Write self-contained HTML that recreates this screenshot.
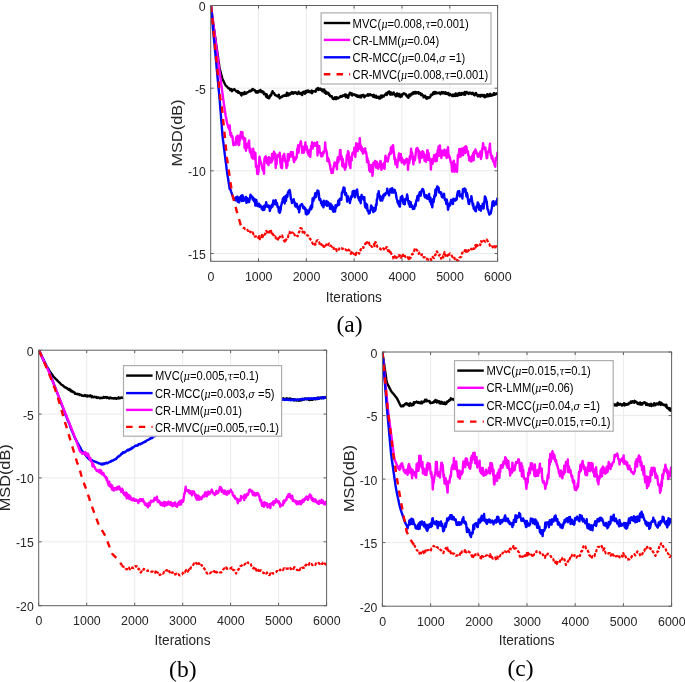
<!DOCTYPE html>
<html><head><meta charset="utf-8"><title>MSD curves</title>
<style>
html,body{margin:0;padding:0;background:#fff;}
svg{display:block;}
text{font-family:"Liberation Sans",sans-serif;fill:#262626;}
.tk{font-size:13.4px;}
.lb{font-size:14px;}
.lg{font-size:11.9px;fill:#000;}
.g{font-family:"DejaVu Serif","Liberation Serif",serif;font-style:italic;font-size:10.5px;}
.cap{font-family:"Liberation Serif",serif;font-size:23.5px;fill:#000;}
.c{fill:none;stroke-width:2.40;stroke-linejoin:round;stroke-linecap:butt;}
</style></head><body>
<svg width="685" height="682" viewBox="0 0 685 682">
<rect x="0" y="0" width="685" height="682" fill="#ffffff"/>
<g id="chart-a">
<clipPath id="clip-a"><rect x="210.7" y="4.3" width="287.5" height="257.0"/></clipPath>
<line x1="258.5" y1="5.5" x2="258.5" y2="261.3" stroke="#ebebeb" stroke-width="1"/>
<line x1="306.3" y1="5.5" x2="306.3" y2="261.3" stroke="#ebebeb" stroke-width="1"/>
<line x1="354.1" y1="5.5" x2="354.1" y2="261.3" stroke="#ebebeb" stroke-width="1"/>
<line x1="402.0" y1="5.5" x2="402.0" y2="261.3" stroke="#ebebeb" stroke-width="1"/>
<line x1="449.8" y1="5.5" x2="449.8" y2="261.3" stroke="#ebebeb" stroke-width="1"/>
<line x1="210.7" y1="88.2" x2="497.6" y2="88.2" stroke="#ebebeb" stroke-width="1"/>
<line x1="210.7" y1="170.8" x2="497.6" y2="170.8" stroke="#ebebeb" stroke-width="1"/>
<line x1="210.7" y1="253.5" x2="497.6" y2="253.5" stroke="#ebebeb" stroke-width="1"/>
<g clip-path="url(#clip-a)">
<path class="c" d="M210.9 5.6 L211.3 8.9 L211.8 12.2 L212.2 15.6 L212.7 18.9 L213.1 22.2 L213.6 25.6 L214.0 28.9 L214.5 32.2 L214.9 35.5 L215.4 38.8 L215.8 42.0 L216.3 45.1 L216.7 48.3 L217.2 51.4 L217.6 54.6 L218.1 57.7 L218.5 60.9 L219.0 64.0 L219.4 67.2 L219.9 69.6 L220.3 71.2 L220.8 72.8 L221.2 74.3 L221.7 75.9 L222.1 77.5 L222.6 79.1 L223.0 80.1 L223.5 81.0 L223.9 82.0 L224.4 82.9 L224.8 83.8 L225.3 84.8 L225.7 85.5 L226.2 85.9 L226.6 86.3 L227.1 86.6 L227.5 87.2 L228.0 87.9 L228.4 88.2 L228.9 88.3 L229.3 88.4 L229.8 88.8 L230.2 90.2 L230.7 89.4 L231.1 89.1 L231.6 89.7 L232.0 91.2 L232.5 89.8 L232.9 90.2 L233.4 90.0 L233.8 89.6 L234.3 89.1 L234.7 89.8 L235.2 90.0 L235.6 90.7 L236.1 91.2 L236.5 91.5 L237.0 91.3 L237.4 92.0 L237.9 91.1 L238.3 92.9 L238.8 92.6 L239.2 92.2 L239.7 93.1 L240.1 92.9 L240.6 94.1 L241.0 94.7 L241.5 95.4 L241.9 93.0 L242.4 92.9 L242.8 93.5 L243.3 93.9 L243.7 94.3 L244.2 93.8 L244.6 91.9 L245.1 93.1 L245.5 93.8 L246.0 93.3 L246.4 93.5 L246.9 92.5 L247.3 92.3 L247.8 92.3 L248.2 92.2 L248.7 91.8 L249.1 91.5 L249.6 90.7 L250.0 91.2 L250.5 90.7 L250.9 91.2 L251.4 91.0 L251.8 90.0 L252.3 89.3 L252.7 88.9 L253.2 89.8 L253.6 89.8 L254.1 89.8 L254.5 90.4 L255.0 90.3 L255.4 91.6 L255.9 91.0 L256.3 92.6 L256.8 92.3 L257.2 92.7 L257.7 91.3 L258.1 92.1 L258.6 92.3 L259.0 90.8 L259.5 91.1 L259.9 91.1 L260.4 89.9 L260.8 91.2 L261.3 92.0 L261.7 91.0 L262.2 92.3 L262.6 91.4 L263.1 92.7 L263.5 91.8 L264.0 94.2 L264.4 94.0 L264.9 94.0 L265.3 93.8 L265.8 95.8 L266.2 96.7 L266.7 94.3 L267.1 97.0 L267.6 97.7 L268.0 97.1 L268.5 96.4 L268.9 98.3 L269.4 97.8 L269.8 96.6 L270.3 95.3 L270.7 95.8 L271.2 95.2 L271.6 93.3 L272.1 93.3 L272.5 91.2 L273.0 92.9 L273.4 92.7 L273.9 93.0 L274.3 93.5 L274.8 94.7 L275.2 95.1 L275.7 95.4 L276.1 95.4 L276.6 95.5 L277.0 96.1 L277.5 96.0 L277.9 96.5 L278.4 95.9 L278.8 94.7 L279.3 97.3 L279.7 98.4 L280.2 97.2 L280.6 97.0 L281.1 97.2 L281.5 97.2 L282.0 97.0 L282.4 95.9 L282.9 96.1 L283.3 95.5 L283.8 96.1 L284.2 95.4 L284.7 95.8 L285.1 95.0 L285.6 95.6 L286.0 94.7 L286.5 96.0 L286.9 92.6 L287.4 93.5 L287.8 94.6 L288.3 95.5 L288.7 93.5 L289.2 93.7 L289.6 93.4 L290.1 94.4 L290.5 93.1 L291.0 93.8 L291.4 92.9 L291.9 92.1 L292.3 93.2 L292.8 93.3 L293.2 93.8 L293.7 92.6 L294.1 92.2 L294.6 93.0 L295.0 92.6 L295.5 92.6 L295.9 92.3 L296.4 93.4 L296.8 92.9 L297.3 94.1 L297.7 93.6 L298.2 93.3 L298.6 91.7 L299.1 93.5 L299.5 93.4 L300.0 93.8 L300.4 94.1 L300.9 93.1 L301.3 94.1 L301.8 93.1 L302.2 95.1 L302.7 92.4 L303.1 91.9 L303.6 91.8 L304.0 92.2 L304.5 91.8 L304.9 93.9 L305.4 92.0 L305.8 91.1 L306.3 92.7 L306.7 91.2 L307.2 90.6 L307.6 91.9 L308.1 91.6 L308.5 90.6 L309.0 91.9 L309.4 91.1 L309.9 92.3 L310.3 91.6 L310.8 92.5 L311.2 91.5 L311.7 90.6 L312.1 93.3 L312.6 91.4 L313.0 91.7 L313.5 91.2 L313.9 91.3 L314.4 91.3 L314.8 91.0 L315.3 91.1 L315.7 91.7 L316.2 90.0 L316.6 88.9 L317.1 88.6 L317.5 88.8 L318.0 88.1 L318.4 90.0 L318.9 89.0 L319.3 89.2 L319.8 89.5 L320.2 88.5 L320.7 88.9 L321.1 90.1 L321.6 90.1 L322.0 89.5 L322.5 91.4 L322.9 89.4 L323.4 90.3 L323.8 90.7 L324.3 89.5 L324.7 92.9 L325.2 92.0 L325.6 91.2 L326.1 93.8 L326.5 92.9 L327.0 93.1 L327.4 92.6 L327.9 93.5 L328.3 92.7 L328.8 94.8 L329.2 94.3 L329.7 95.0 L330.1 96.2 L330.6 95.9 L331.0 96.2 L331.5 96.6 L331.9 96.3 L332.4 97.8 L332.8 98.7 L333.3 98.5 L333.7 99.0 L334.2 97.8 L334.6 97.7 L335.1 97.2 L335.5 99.1 L336.0 97.9 L336.4 99.0 L336.9 97.3 L337.3 97.5 L337.8 97.8 L338.2 98.3 L338.7 97.6 L339.1 97.6 L339.6 97.3 L340.0 97.3 L340.5 96.1 L340.9 96.8 L341.4 96.4 L341.8 96.4 L342.3 96.6 L342.7 95.5 L343.2 95.8 L343.6 95.5 L344.1 95.8 L344.5 95.9 L345.0 94.5 L345.4 95.9 L345.9 97.2 L346.3 94.8 L346.8 95.4 L347.2 95.6 L347.7 96.3 L348.1 97.9 L348.6 95.9 L349.0 94.4 L349.5 94.5 L349.9 92.7 L350.4 94.0 L350.8 93.6 L351.3 94.6 L351.7 93.2 L352.2 95.6 L352.6 94.7 L353.1 94.8 L353.5 94.5 L354.0 94.2 L354.4 94.3 L354.9 95.0 L355.3 94.7 L355.8 95.7 L356.2 95.1 L356.7 96.3 L357.1 96.6 L357.6 95.4 L358.0 96.9 L358.5 95.9 L358.9 97.0 L359.4 96.5 L359.8 97.1 L360.3 95.6 L360.7 96.3 L361.2 97.5 L361.6 96.0 L362.1 95.0 L362.5 95.2 L363.0 95.0 L363.4 95.0 L363.9 96.2 L364.3 97.3 L364.8 95.8 L365.2 96.3 L365.7 95.8 L366.1 95.7 L366.6 95.4 L367.0 95.3 L367.5 95.6 L367.9 94.2 L368.4 95.7 L368.8 95.5 L369.3 94.5 L369.7 95.1 L370.2 94.2 L370.6 94.5 L371.1 95.2 L371.5 95.2 L372.0 95.2 L372.4 95.2 L372.9 95.5 L373.3 96.8 L373.8 94.8 L374.2 96.7 L374.7 96.5 L375.1 97.4 L375.6 97.4 L376.0 95.6 L376.5 97.8 L376.9 97.6 L377.4 97.3 L377.8 96.9 L378.3 97.8 L378.7 96.8 L379.2 98.5 L379.6 97.5 L380.1 98.6 L380.5 96.4 L381.0 95.6 L381.4 97.4 L381.9 97.5 L382.3 96.8 L382.8 95.6 L383.2 96.1 L383.7 96.6 L384.1 95.6 L384.6 95.3 L385.0 94.9 L385.5 94.0 L385.9 94.0 L386.4 93.0 L386.8 95.0 L387.3 93.0 L387.7 93.4 L388.2 91.9 L388.6 93.2 L389.1 91.4 L389.5 93.6 L390.0 93.0 L390.4 94.7 L390.9 92.3 L391.3 93.5 L391.8 93.8 L392.2 94.6 L392.7 93.5 L393.1 94.0 L393.6 92.4 L394.0 93.5 L394.5 94.6 L394.9 95.2 L395.4 94.3 L395.8 96.2 L396.3 96.1 L396.7 94.8 L397.2 93.3 L397.6 93.8 L398.1 94.6 L398.5 96.2 L399.0 95.7 L399.4 94.0 L399.9 95.5 L400.3 97.0 L400.8 95.3 L401.2 94.7 L401.7 96.5 L402.1 94.7 L402.6 94.0 L403.0 94.4 L403.5 93.8 L403.9 93.2 L404.4 94.1 L404.8 93.9 L405.3 94.2 L405.7 94.0 L406.2 95.5 L406.6 95.1 L407.1 96.0 L407.5 96.9 L408.0 97.2 L408.4 97.8 L408.9 96.4 L409.3 94.5 L409.8 94.5 L410.2 96.1 L410.7 94.5 L411.1 94.7 L411.6 93.4 L412.0 94.4 L412.5 93.1 L412.9 94.1 L413.4 92.3 L413.8 93.4 L414.3 93.1 L414.7 92.1 L415.2 93.5 L415.6 92.0 L416.1 92.1 L416.5 93.3 L417.0 92.3 L417.4 92.4 L417.9 92.6 L418.3 92.1 L418.8 93.7 L419.2 93.4 L419.7 92.9 L420.1 92.9 L420.6 93.7 L421.0 95.1 L421.5 94.8 L421.9 94.1 L422.4 95.5 L422.8 95.2 L423.3 95.5 L423.7 97.4 L424.2 96.1 L424.6 96.4 L425.1 95.7 L425.5 96.5 L426.0 98.2 L426.4 97.8 L426.9 98.7 L427.3 97.1 L427.8 97.1 L428.2 97.8 L428.7 98.1 L429.1 97.1 L429.6 97.2 L430.0 97.3 L430.5 96.4 L430.9 94.6 L431.4 94.9 L431.8 95.1 L432.3 94.0 L432.7 94.4 L433.2 92.5 L433.6 93.0 L434.1 94.0 L434.5 91.9 L435.0 92.6 L435.4 93.4 L435.9 92.1 L436.3 93.4 L436.8 92.7 L437.2 93.0 L437.7 93.0 L438.1 93.3 L438.6 92.7 L439.0 93.1 L439.5 92.6 L439.9 93.4 L440.4 94.2 L440.8 93.1 L441.3 93.0 L441.7 92.0 L442.2 93.4 L442.6 92.2 L443.1 92.2 L443.5 93.2 L444.0 92.8 L444.4 93.5 L444.9 93.7 L445.3 92.2 L445.8 92.7 L446.2 93.9 L446.7 93.4 L447.1 93.5 L447.6 94.1 L448.0 92.9 L448.5 94.1 L448.9 94.9 L449.4 95.3 L449.8 93.7 L450.3 94.3 L450.7 95.0 L451.2 94.7 L451.6 94.9 L452.1 95.9 L452.5 95.4 L453.0 94.5 L453.4 96.0 L453.9 95.3 L454.3 94.9 L454.8 94.2 L455.2 96.0 L455.7 93.5 L456.1 93.8 L456.6 94.7 L457.0 95.7 L457.5 95.7 L457.9 93.7 L458.4 94.3 L458.8 93.2 L459.3 95.0 L459.7 93.0 L460.2 93.9 L460.6 94.7 L461.1 93.6 L461.5 94.8 L462.0 93.0 L462.4 93.8 L462.9 94.1 L463.3 93.3 L463.8 94.4 L464.2 93.7 L464.7 92.0 L465.1 94.8 L465.6 93.6 L466.0 93.1 L466.5 91.9 L466.9 93.0 L467.4 92.5 L467.8 93.3 L468.3 93.0 L468.7 94.0 L469.2 92.7 L469.6 93.0 L470.1 93.1 L470.5 92.8 L471.0 92.9 L471.4 94.0 L471.9 93.9 L472.3 93.0 L472.8 92.7 L473.2 93.7 L473.7 94.7 L474.1 94.0 L474.6 95.4 L475.0 93.7 L475.5 94.5 L475.9 92.9 L476.4 94.2 L476.8 94.5 L477.3 95.2 L477.7 96.2 L478.2 95.1 L478.6 96.2 L479.1 95.7 L479.5 96.1 L480.0 95.1 L480.4 96.6 L480.9 94.9 L481.3 96.1 L481.8 95.1 L482.2 95.6 L482.7 95.0 L483.1 95.8 L483.6 96.5 L484.0 96.2 L484.5 95.1 L484.9 97.2 L485.4 96.2 L485.8 96.7 L486.3 96.4 L486.7 95.3 L487.2 94.2 L487.6 94.9 L488.1 96.4 L488.5 94.7 L489.0 96.0 L489.4 94.8 L489.9 95.5 L490.3 93.8 L490.8 95.9 L491.2 94.9 L491.7 95.5 L492.1 94.9 L492.6 95.3 L493.0 94.5 L493.5 95.0 L493.9 93.2 L494.4 93.4 L494.8 94.7 L495.3 94.0 L495.7 93.8 L496.2 93.7 L496.6 94.1 L497.1 93.2 L497.5 94.0" stroke="#000000"/>
<path class="c" d="M210.9 5.6 L211.3 9.0 L211.8 12.4 L212.2 15.8 L212.7 19.2 L213.1 22.6 L213.6 26.0 L214.0 29.4 L214.5 32.8 L214.9 36.3 L215.4 39.7 L215.8 43.1 L216.3 46.5 L216.7 49.9 L217.2 53.3 L217.6 56.7 L218.1 60.1 L218.5 63.5 L219.0 66.9 L219.4 70.4 L219.9 73.8 L220.3 77.2 L220.8 80.6 L221.2 84.0 L221.7 87.4 L222.1 90.8 L222.6 94.2 L223.0 97.6 L223.5 100.9 L223.9 104.0 L224.4 107.1 L224.8 110.2 L225.3 113.3 L225.7 116.0 L226.2 118.3 L226.6 120.9 L227.1 123.0 L227.5 124.3 L228.0 126.3 L228.4 127.7 L228.9 127.2 L229.3 129.6 L229.8 125.5 L230.2 134.1 L230.7 135.5 L231.1 132.9 L231.6 137.2 L232.0 137.3 L232.5 136.4 L232.9 140.8 L233.4 145.2 L233.8 142.8 L234.3 144.5 L234.7 143.9 L235.2 143.9 L235.6 144.8 L236.1 137.5 L236.5 139.7 L237.0 140.4 L237.4 135.7 L237.9 141.6 L238.3 144.1 L238.8 145.1 L239.2 144.4 L239.7 135.5 L240.1 140.0 L240.6 136.0 L241.0 131.9 L241.5 136.0 L241.9 134.8 L242.4 132.3 L242.8 138.5 L243.3 136.7 L243.7 139.8 L244.2 138.1 L244.6 148.0 L245.1 138.4 L245.5 146.5 L246.0 150.7 L246.4 143.6 L246.9 147.6 L247.3 146.3 L247.8 147.5 L248.2 147.2 L248.7 141.8 L249.1 140.6 L249.6 150.7 L250.0 152.0 L250.5 148.8 L250.9 153.0 L251.4 154.9 L251.8 157.2 L252.3 155.5 L252.7 158.6 L253.2 148.6 L253.6 156.4 L254.1 153.8 L254.5 152.2 L255.0 159.7 L255.4 152.9 L255.9 166.2 L256.3 167.2 L256.8 165.9 L257.2 173.9 L257.7 169.5 L258.1 174.1 L258.6 170.1 L259.0 163.0 L259.5 156.7 L259.9 158.8 L260.4 161.3 L260.8 162.3 L261.3 163.0 L261.7 165.6 L262.2 168.3 L262.6 169.3 L263.1 170.5 L263.5 167.7 L264.0 173.8 L264.4 159.4 L264.9 157.3 L265.3 158.3 L265.8 156.3 L266.2 159.3 L266.7 161.2 L267.1 163.3 L267.6 162.5 L268.0 158.0 L268.5 165.1 L268.9 157.2 L269.4 162.7 L269.8 160.8 L270.3 158.3 L270.7 162.5 L271.2 159.4 L271.6 162.2 L272.1 153.9 L272.5 160.1 L273.0 158.3 L273.4 156.4 L273.9 151.8 L274.3 156.6 L274.8 154.1 L275.2 153.8 L275.7 168.0 L276.1 163.9 L276.6 164.4 L277.0 155.7 L277.5 157.1 L277.9 155.0 L278.4 155.2 L278.8 155.2 L279.3 156.3 L279.7 152.6 L280.2 162.4 L280.6 163.7 L281.1 167.5 L281.5 163.9 L282.0 168.2 L282.4 159.8 L282.9 155.6 L283.3 160.3 L283.8 155.6 L284.2 154.0 L284.7 158.8 L285.1 161.5 L285.6 160.7 L286.0 162.2 L286.5 168.1 L286.9 164.4 L287.4 165.6 L287.8 154.2 L288.3 160.3 L288.7 160.6 L289.2 156.3 L289.6 153.9 L290.1 156.8 L290.5 153.8 L291.0 152.0 L291.4 156.4 L291.9 156.0 L292.3 152.1 L292.8 152.1 L293.2 157.2 L293.7 160.4 L294.1 162.1 L294.6 157.5 L295.0 159.2 L295.5 159.7 L295.9 158.8 L296.4 158.2 L296.8 156.0 L297.3 148.7 L297.7 148.4 L298.2 145.2 L298.6 152.7 L299.1 146.2 L299.5 145.7 L300.0 145.5 L300.4 142.6 L300.9 141.3 L301.3 144.7 L301.8 146.7 L302.2 152.9 L302.7 152.2 L303.1 147.5 L303.6 152.7 L304.0 152.2 L304.5 146.1 L304.9 148.3 L305.4 142.4 L305.8 149.6 L306.3 148.5 L306.7 146.3 L307.2 149.2 L307.6 152.9 L308.1 151.4 L308.5 154.9 L309.0 155.5 L309.4 150.3 L309.9 150.8 L310.3 157.0 L310.8 149.9 L311.2 145.9 L311.7 147.6 L312.1 142.3 L312.6 148.6 L313.0 145.2 L313.5 146.3 L313.9 144.7 L314.4 142.9 L314.8 145.8 L315.3 144.7 L315.7 143.3 L316.2 143.4 L316.6 146.4 L317.1 142.3 L317.5 155.5 L318.0 145.5 L318.4 151.0 L318.9 147.8 L319.3 146.2 L319.8 152.6 L320.2 152.5 L320.7 153.5 L321.1 156.2 L321.6 153.3 L322.0 156.4 L322.5 155.9 L322.9 152.5 L323.4 151.8 L323.8 153.3 L324.3 151.0 L324.7 150.5 L325.2 142.5 L325.6 148.4 L326.1 150.2 L326.5 150.8 L327.0 154.3 L327.4 161.1 L327.9 157.8 L328.3 161.6 L328.8 159.2 L329.2 161.3 L329.7 164.5 L330.1 164.8 L330.6 169.7 L331.0 168.8 L331.5 173.0 L331.9 171.1 L332.4 172.4 L332.8 172.7 L333.3 168.7 L333.7 167.1 L334.2 164.4 L334.6 162.4 L335.1 164.2 L335.5 166.1 L336.0 165.1 L336.4 162.7 L336.9 169.2 L337.3 160.3 L337.8 157.2 L338.2 162.4 L338.7 160.0 L339.1 157.9 L339.6 156.8 L340.0 150.1 L340.5 149.9 L340.9 158.8 L341.4 159.9 L341.8 156.5 L342.3 166.3 L342.7 159.0 L343.2 162.3 L343.6 166.7 L344.1 164.1 L344.5 168.0 L345.0 169.7 L345.4 166.3 L345.9 167.4 L346.3 163.9 L346.8 156.1 L347.2 154.7 L347.7 154.6 L348.1 151.1 L348.6 152.5 L349.0 160.1 L349.5 165.3 L349.9 164.9 L350.4 168.1 L350.8 158.6 L351.3 156.4 L351.7 160.5 L352.2 154.2 L352.6 152.8 L353.1 154.1 L353.5 151.9 L354.0 154.0 L354.4 147.8 L354.9 150.1 L355.3 157.0 L355.8 149.9 L356.2 143.2 L356.7 150.0 L357.1 149.2 L357.6 151.1 L358.0 146.7 L358.5 143.6 L358.9 149.1 L359.4 146.3 L359.8 138.1 L360.3 146.8 L360.7 145.1 L361.2 150.3 L361.6 147.0 L362.1 151.7 L362.5 151.1 L363.0 153.5 L363.4 151.5 L363.9 149.2 L364.3 149.5 L364.8 150.1 L365.2 148.3 L365.7 153.4 L366.1 152.2 L366.6 155.3 L367.0 162.1 L367.5 158.3 L367.9 162.2 L368.4 161.1 L368.8 164.8 L369.3 170.5 L369.7 167.4 L370.2 171.7 L370.6 165.1 L371.1 165.0 L371.5 171.0 L372.0 166.5 L372.4 175.9 L372.9 171.7 L373.3 162.9 L373.8 164.7 L374.2 162.2 L374.7 163.8 L375.1 161.0 L375.6 164.7 L376.0 167.5 L376.5 163.5 L376.9 161.8 L377.4 168.1 L377.8 165.4 L378.3 168.7 L378.7 164.2 L379.2 166.6 L379.6 164.5 L380.1 162.3 L380.5 160.9 L381.0 164.7 L381.4 169.9 L381.9 166.6 L382.3 164.4 L382.8 167.7 L383.2 166.7 L383.7 163.3 L384.1 167.5 L384.6 168.8 L385.0 160.7 L385.5 155.8 L385.9 158.2 L386.4 160.9 L386.8 158.1 L387.3 158.2 L387.7 161.6 L388.2 159.7 L388.6 156.8 L389.1 153.9 L389.5 154.5 L390.0 152.5 L390.4 154.0 L390.9 147.5 L391.3 153.5 L391.8 148.0 L392.2 146.3 L392.7 151.8 L393.1 145.1 L393.6 150.7 L394.0 153.1 L394.5 159.5 L394.9 157.4 L395.4 164.3 L395.8 159.8 L396.3 163.8 L396.7 161.2 L397.2 167.4 L397.6 161.4 L398.1 161.9 L398.5 157.1 L399.0 153.5 L399.4 155.1 L399.9 160.0 L400.3 154.5 L400.8 153.9 L401.2 158.5 L401.7 162.6 L402.1 158.0 L402.6 160.4 L403.0 162.3 L403.5 160.5 L403.9 162.0 L404.4 164.4 L404.8 160.6 L405.3 160.1 L405.7 162.3 L406.2 160.4 L406.6 158.6 L407.1 159.3 L407.5 159.9 L408.0 169.9 L408.4 163.0 L408.9 163.5 L409.3 162.6 L409.8 156.2 L410.2 159.6 L410.7 154.7 L411.1 148.7 L411.6 154.2 L412.0 152.4 L412.5 155.3 L412.9 158.1 L413.4 164.4 L413.8 157.1 L414.3 158.8 L414.7 160.5 L415.2 157.9 L415.6 154.8 L416.1 150.0 L416.5 148.4 L417.0 149.9 L417.4 148.0 L417.9 150.6 L418.3 149.8 L418.8 158.0 L419.2 151.2 L419.7 162.5 L420.1 155.9 L420.6 153.7 L421.0 152.6 L421.5 157.7 L421.9 157.7 L422.4 151.3 L422.8 154.1 L423.3 151.9 L423.7 153.3 L424.2 156.7 L424.6 160.8 L425.1 155.0 L425.5 156.4 L426.0 161.9 L426.4 159.1 L426.9 159.3 L427.3 150.1 L427.8 150.5 L428.2 159.9 L428.7 153.1 L429.1 159.9 L429.6 158.2 L430.0 161.2 L430.5 160.1 L430.9 169.6 L431.4 159.5 L431.8 160.0 L432.3 159.2 L432.7 163.8 L433.2 159.5 L433.6 159.0 L434.1 155.2 L434.5 155.5 L435.0 157.2 L435.4 161.3 L435.9 158.3 L436.3 154.0 L436.8 161.0 L437.2 155.8 L437.7 150.2 L438.1 151.0 L438.6 146.5 L439.0 155.9 L439.5 149.5 L439.9 145.4 L440.4 153.2 L440.8 150.7 L441.3 158.0 L441.7 155.4 L442.2 150.6 L442.6 155.3 L443.1 154.4 L443.5 154.8 L444.0 154.4 L444.4 149.7 L444.9 155.6 L445.3 151.7 L445.8 151.0 L446.2 155.2 L446.7 158.0 L447.1 149.7 L447.6 157.0 L448.0 147.1 L448.5 156.6 L448.9 154.8 L449.4 157.9 L449.8 156.9 L450.3 159.7 L450.7 162.2 L451.2 162.7 L451.6 165.6 L452.1 171.6 L452.5 163.7 L453.0 165.7 L453.4 161.5 L453.9 160.8 L454.3 171.9 L454.8 163.9 L455.2 165.8 L455.7 168.3 L456.1 171.2 L456.6 169.6 L457.0 171.8 L457.5 162.7 L457.9 154.8 L458.4 157.8 L458.8 154.8 L459.3 149.0 L459.7 149.3 L460.2 149.2 L460.6 156.7 L461.1 150.3 L461.5 148.6 L462.0 154.2 L462.4 148.5 L462.9 155.4 L463.3 154.0 L463.8 148.9 L464.2 148.4 L464.7 146.9 L465.1 153.0 L465.6 150.2 L466.0 146.3 L466.5 147.1 L466.9 151.5 L467.4 152.6 L467.8 151.2 L468.3 155.3 L468.7 155.2 L469.2 160.4 L469.6 159.8 L470.1 159.6 L470.5 161.2 L471.0 157.2 L471.4 161.4 L471.9 158.9 L472.3 155.5 L472.8 156.1 L473.2 153.1 L473.7 160.3 L474.1 151.4 L474.6 153.3 L475.0 152.4 L475.5 149.4 L475.9 152.2 L476.4 151.7 L476.8 153.9 L477.3 154.3 L477.7 156.3 L478.2 156.8 L478.6 153.7 L479.1 153.8 L479.5 154.1 L480.0 153.7 L480.4 151.5 L480.9 159.0 L481.3 157.4 L481.8 155.3 L482.2 148.9 L482.7 147.3 L483.1 143.2 L483.6 147.4 L484.0 147.7 L484.5 149.2 L484.9 148.9 L485.4 147.6 L485.8 152.6 L486.3 154.3 L486.7 158.2 L487.2 157.7 L487.6 152.8 L488.1 151.7 L488.5 152.1 L489.0 149.6 L489.4 148.4 L489.9 143.8 L490.3 149.6 L490.8 155.5 L491.2 154.8 L491.7 158.5 L492.1 156.0 L492.6 158.3 L493.0 161.2 L493.5 161.6 L493.9 161.5 L494.4 164.3 L494.8 165.8 L495.3 166.8 L495.7 157.9 L496.2 159.9 L496.6 158.9 L497.1 157.3 L497.5 151.9" stroke="#ff00ff"/>
<path class="c" d="M210.9 5.6 L211.3 10.4 L211.8 15.2 L212.2 20.1 L212.7 24.9 L213.1 29.7 L213.6 34.6 L214.0 39.4 L214.5 44.2 L214.9 49.0 L215.4 53.9 L215.8 58.7 L216.3 63.5 L216.7 68.4 L217.2 73.2 L217.6 78.0 L218.1 82.9 L218.5 87.7 L219.0 92.5 L219.4 97.3 L219.9 102.5 L220.3 108.2 L220.8 113.8 L221.2 119.4 L221.7 125.0 L222.1 130.7 L222.6 136.3 L223.0 140.0 L223.5 143.6 L223.9 147.2 L224.4 150.8 L224.8 154.4 L225.3 158.0 L225.7 161.6 L226.2 165.2 L226.6 168.8 L227.1 172.3 L227.5 175.1 L228.0 178.0 L228.4 180.8 L228.9 183.7 L229.3 186.5 L229.8 189.3 L230.2 188.9 L230.7 190.2 L231.1 191.6 L231.6 192.9 L232.0 194.3 L232.5 195.3 L232.9 197.0 L233.4 198.4 L233.8 198.7 L234.3 199.2 L234.7 199.6 L235.2 200.3 L235.6 197.8 L236.1 200.4 L236.5 196.9 L237.0 198.8 L237.4 196.7 L237.9 201.8 L238.3 202.1 L238.8 198.9 L239.2 202.4 L239.7 197.5 L240.1 198.8 L240.6 198.5 L241.0 195.9 L241.5 198.5 L241.9 201.1 L242.4 195.2 L242.8 198.6 L243.3 196.7 L243.7 200.8 L244.2 198.8 L244.6 199.6 L245.1 200.0 L245.5 199.7 L246.0 197.0 L246.4 202.8 L246.9 198.0 L247.3 201.5 L247.8 202.0 L248.2 198.9 L248.7 200.5 L249.1 202.1 L249.6 199.5 L250.0 197.5 L250.5 194.7 L250.9 196.7 L251.4 197.0 L251.8 196.9 L252.3 196.5 L252.7 199.5 L253.2 198.1 L253.6 199.5 L254.1 201.4 L254.5 198.9 L255.0 200.4 L255.4 205.6 L255.9 203.6 L256.3 199.9 L256.8 202.7 L257.2 204.3 L257.7 206.1 L258.1 204.4 L258.6 203.6 L259.0 203.7 L259.5 206.7 L259.9 206.6 L260.4 205.4 L260.8 206.5 L261.3 206.5 L261.7 209.1 L262.2 206.9 L262.6 209.6 L263.1 210.1 L263.5 208.9 L264.0 206.0 L264.4 209.7 L264.9 205.4 L265.3 207.0 L265.8 204.3 L266.2 202.3 L266.7 206.3 L267.1 206.6 L267.6 206.1 L268.0 207.0 L268.5 205.5 L268.9 205.6 L269.4 206.9 L269.8 211.0 L270.3 209.2 L270.7 206.3 L271.2 207.8 L271.6 205.2 L272.1 204.6 L272.5 206.5 L273.0 203.3 L273.4 200.5 L273.9 201.5 L274.3 203.0 L274.8 202.7 L275.2 204.4 L275.7 200.3 L276.1 202.7 L276.6 202.8 L277.0 203.2 L277.5 206.7 L277.9 207.5 L278.4 206.5 L278.8 211.7 L279.3 208.9 L279.7 212.9 L280.2 211.5 L280.6 210.0 L281.1 205.6 L281.5 204.7 L282.0 202.2 L282.4 202.1 L282.9 198.4 L283.3 199.9 L283.8 199.1 L284.2 197.0 L284.7 203.5 L285.1 199.0 L285.6 196.2 L286.0 201.0 L286.5 195.2 L286.9 196.9 L287.4 196.8 L287.8 192.9 L288.3 192.2 L288.7 191.0 L289.2 191.5 L289.6 190.0 L290.1 192.1 L290.5 195.5 L291.0 199.1 L291.4 199.7 L291.9 203.1 L292.3 202.5 L292.8 200.8 L293.2 202.1 L293.7 199.1 L294.1 201.7 L294.6 202.2 L295.0 205.3 L295.5 206.6 L295.9 204.8 L296.4 205.2 L296.8 203.8 L297.3 206.9 L297.7 208.1 L298.2 208.9 L298.6 207.0 L299.1 212.3 L299.5 210.0 L300.0 206.8 L300.4 205.2 L300.9 204.9 L301.3 205.0 L301.8 203.9 L302.2 204.3 L302.7 205.8 L303.1 207.8 L303.6 208.3 L304.0 206.8 L304.5 208.7 L304.9 208.1 L305.4 208.6 L305.8 213.8 L306.3 209.6 L306.7 214.5 L307.2 210.4 L307.6 211.8 L308.1 213.7 L308.5 212.0 L309.0 212.3 L309.4 210.0 L309.9 208.5 L310.3 208.1 L310.8 206.1 L311.2 209.4 L311.7 204.9 L312.1 207.4 L312.6 198.4 L313.0 201.1 L313.5 200.6 L313.9 197.5 L314.4 198.7 L314.8 196.3 L315.3 193.1 L315.7 193.9 L316.2 196.8 L316.6 192.6 L317.1 192.3 L317.5 190.5 L318.0 192.6 L318.4 191.0 L318.9 194.1 L319.3 199.7 L319.8 198.6 L320.2 198.9 L320.7 200.8 L321.1 203.2 L321.6 201.7 L322.0 205.4 L322.5 204.4 L322.9 203.5 L323.4 207.4 L323.8 200.8 L324.3 204.1 L324.7 205.1 L325.2 202.3 L325.6 203.1 L326.1 201.6 L326.5 201.0 L327.0 205.8 L327.4 202.4 L327.9 201.9 L328.3 205.3 L328.8 203.1 L329.2 205.9 L329.7 205.7 L330.1 208.8 L330.6 203.8 L331.0 208.4 L331.5 207.5 L331.9 205.4 L332.4 209.9 L332.8 206.6 L333.3 211.7 L333.7 209.9 L334.2 210.6 L334.6 209.7 L335.1 211.5 L335.5 205.2 L336.0 207.8 L336.4 205.4 L336.9 206.1 L337.3 204.4 L337.8 204.6 L338.2 200.8 L338.7 205.0 L339.1 204.8 L339.6 199.3 L340.0 198.8 L340.5 198.4 L340.9 199.4 L341.4 199.7 L341.8 192.8 L342.3 192.8 L342.7 190.8 L343.2 189.6 L343.6 187.4 L344.1 190.1 L344.5 188.0 L345.0 194.6 L345.4 195.0 L345.9 192.9 L346.3 194.4 L346.8 196.8 L347.2 201.7 L347.7 197.6 L348.1 196.5 L348.6 199.4 L349.0 200.4 L349.5 198.6 L349.9 203.1 L350.4 199.9 L350.8 199.5 L351.3 196.3 L351.7 197.1 L352.2 196.1 L352.6 191.5 L353.1 195.5 L353.5 191.0 L354.0 194.1 L354.4 191.0 L354.9 197.3 L355.3 193.8 L355.8 194.5 L356.2 194.4 L356.7 190.1 L357.1 189.5 L357.6 194.1 L358.0 197.5 L358.5 197.0 L358.9 199.3 L359.4 200.7 L359.8 197.1 L360.3 200.3 L360.7 203.2 L361.2 198.1 L361.6 195.0 L362.1 198.1 L362.5 197.4 L363.0 198.8 L363.4 197.0 L363.9 200.1 L364.3 197.1 L364.8 204.2 L365.2 206.9 L365.7 207.7 L366.1 203.6 L366.6 208.3 L367.0 204.7 L367.5 210.6 L367.9 211.2 L368.4 210.6 L368.8 213.5 L369.3 212.4 L369.7 213.1 L370.2 210.8 L370.6 210.3 L371.1 205.4 L371.5 206.1 L372.0 206.9 L372.4 208.8 L372.9 208.7 L373.3 212.0 L373.8 207.9 L374.2 209.6 L374.7 211.0 L375.1 210.5 L375.6 209.4 L376.0 204.5 L376.5 205.3 L376.9 199.0 L377.4 198.8 L377.8 193.7 L378.3 195.8 L378.7 191.3 L379.2 196.0 L379.6 195.3 L380.1 197.6 L380.5 200.5 L381.0 197.1 L381.4 197.8 L381.9 199.0 L382.3 200.5 L382.8 195.5 L383.2 198.4 L383.7 194.9 L384.1 194.2 L384.6 194.8 L385.0 195.3 L385.5 193.1 L385.9 193.0 L386.4 193.5 L386.8 192.7 L387.3 188.7 L387.7 191.7 L388.2 192.4 L388.6 194.0 L389.1 195.4 L389.5 192.5 L390.0 191.2 L390.4 188.9 L390.9 190.7 L391.3 191.8 L391.8 192.5 L392.2 188.2 L392.7 190.1 L393.1 191.0 L393.6 192.7 L394.0 190.1 L394.5 189.7 L394.9 190.6 L395.4 192.3 L395.8 192.9 L396.3 196.8 L396.7 198.8 L397.2 199.9 L397.6 202.5 L398.1 201.1 L398.5 204.4 L399.0 204.7 L399.4 206.1 L399.9 206.6 L400.3 202.4 L400.8 197.1 L401.2 198.3 L401.7 196.8 L402.1 195.9 L402.6 197.8 L403.0 201.7 L403.5 203.7 L403.9 200.2 L404.4 203.6 L404.8 204.3 L405.3 198.9 L405.7 200.1 L406.2 199.2 L406.6 198.7 L407.1 194.4 L407.5 196.5 L408.0 200.4 L408.4 202.0 L408.9 204.3 L409.3 201.3 L409.8 206.7 L410.2 205.7 L410.7 202.2 L411.1 206.7 L411.6 204.9 L412.0 207.0 L412.5 206.2 L412.9 209.1 L413.4 207.7 L413.8 207.1 L414.3 208.7 L414.7 206.3 L415.2 203.9 L415.6 205.9 L416.1 201.6 L416.5 200.1 L417.0 199.1 L417.4 196.2 L417.9 196.8 L418.3 200.5 L418.8 194.4 L419.2 195.2 L419.7 192.2 L420.1 192.3 L420.6 195.7 L421.0 194.0 L421.5 190.6 L421.9 191.2 L422.4 189.0 L422.8 189.0 L423.3 190.0 L423.7 191.2 L424.2 194.7 L424.6 196.5 L425.1 197.5 L425.5 197.4 L426.0 195.1 L426.4 197.4 L426.9 195.7 L427.3 198.9 L427.8 198.2 L428.2 198.4 L428.7 196.1 L429.1 194.0 L429.6 200.3 L430.0 201.8 L430.5 197.7 L430.9 201.9 L431.4 204.9 L431.8 201.7 L432.3 207.3 L432.7 201.8 L433.2 198.9 L433.6 202.0 L434.1 198.5 L434.5 195.2 L435.0 196.6 L435.4 189.7 L435.9 195.3 L436.3 188.7 L436.8 189.2 L437.2 186.4 L437.7 186.9 L438.1 189.3 L438.6 187.6 L439.0 192.3 L439.5 191.8 L439.9 192.2 L440.4 193.4 L440.8 192.2 L441.3 192.9 L441.7 196.6 L442.2 194.8 L442.6 197.5 L443.1 196.5 L443.5 194.6 L444.0 193.8 L444.4 197.0 L444.9 199.8 L445.3 200.2 L445.8 199.5 L446.2 203.9 L446.7 199.5 L447.1 201.4 L447.6 204.9 L448.0 209.7 L448.5 207.2 L448.9 203.9 L449.4 206.1 L449.8 205.4 L450.3 204.9 L450.7 201.5 L451.2 199.8 L451.6 200.7 L452.1 200.8 L452.5 203.1 L453.0 204.0 L453.4 198.6 L453.9 199.0 L454.3 199.9 L454.8 199.6 L455.2 200.7 L455.7 199.8 L456.1 198.5 L456.6 199.7 L457.0 195.9 L457.5 193.3 L457.9 191.5 L458.4 191.6 L458.8 192.0 L459.3 191.0 L459.7 196.5 L460.2 196.2 L460.6 195.6 L461.1 195.3 L461.5 194.6 L462.0 195.0 L462.4 198.6 L462.9 189.2 L463.3 192.0 L463.8 191.4 L464.2 188.6 L464.7 188.4 L465.1 191.6 L465.6 189.3 L466.0 193.6 L466.5 196.5 L466.9 193.0 L467.4 194.8 L467.8 198.2 L468.3 201.4 L468.7 203.7 L469.2 204.0 L469.6 201.4 L470.1 199.4 L470.5 200.9 L471.0 200.0 L471.4 196.1 L471.9 199.5 L472.3 202.1 L472.8 205.5 L473.2 203.7 L473.7 208.7 L474.1 207.5 L474.6 209.7 L475.0 209.2 L475.5 211.2 L475.9 211.3 L476.4 206.5 L476.8 205.8 L477.3 206.6 L477.7 202.5 L478.2 207.0 L478.6 203.7 L479.1 209.6 L479.5 209.7 L480.0 208.3 L480.4 206.1 L480.9 210.7 L481.3 207.9 L481.8 207.4 L482.2 208.2 L482.7 203.7 L483.1 207.6 L483.6 208.5 L484.0 204.5 L484.5 201.3 L484.9 196.4 L485.4 197.1 L485.8 198.5 L486.3 200.4 L486.7 201.5 L487.2 206.5 L487.6 209.5 L488.1 209.7 L488.5 211.6 L489.0 213.3 L489.4 214.6 L489.9 212.9 L490.3 212.9 L490.8 213.4 L491.2 211.1 L491.7 208.5 L492.1 205.7 L492.6 201.6 L493.0 203.0 L493.5 201.1 L493.9 205.7 L494.4 202.8 L494.8 204.6 L495.3 202.8 L495.7 203.5 L496.2 201.3 L496.6 204.3 L497.1 200.3 L497.5 197.8" stroke="#0000ff"/>
<path class="c" d="M210.9 5.6 L211.4 10.5 L211.9 15.5 L212.4 20.4 L212.9 25.4 L213.4 30.3 L213.9 35.3 L214.4 40.2 L214.9 45.2 L215.4 50.2 L215.9 55.1 L216.4 60.1 L216.9 65.0 L217.4 70.0 L217.9 74.9 L218.4 79.9 L218.9 84.8 L219.4 89.8 L219.9 94.7 L220.4 99.7 L220.9 100.0 L221.4 102.4 L221.9 107.4 L222.4 112.4 L222.9 117.4 L223.4 122.4 L223.9 127.4 L224.4 132.4 L224.9 137.4 L225.4 142.4 L225.9 147.4 L226.4 152.4 L226.9 157.4 L227.4 161.2 L227.9 164.6 L228.4 168.1 L228.9 171.5 L229.4 174.9 L229.9 178.3 L230.4 181.8 L230.9 185.2 L231.4 188.6 L231.9 192.1 L232.4 194.7 L232.9 196.6 L233.4 198.5 L233.9 200.4 L234.4 202.3 L234.9 204.2 L235.4 206.1 L235.9 208.0 L236.4 209.9 L236.9 211.7 L237.4 213.5 L237.9 215.2 L238.4 217.0 L238.9 218.7 L239.4 220.5 L239.9 222.2 L240.4 224.0 L240.9 225.7 L241.4 226.0 L241.9 226.4 L242.4 226.8 L242.9 227.2" stroke="#ff0000" stroke-dasharray="6.5 6.2"/>
<path class="c" d="M243.0 227.3 L243.7 227.9 L244.4 228.1 L245.1 229.1 L245.8 229.0 L246.5 228.7 L247.2 229.5 L247.9 230.8 L248.6 230.9 L249.3 229.8 L250.0 232.0 L250.7 231.9 L251.4 232.9 L252.1 233.3 L252.8 232.4 L253.5 234.4 L254.2 234.0 L254.9 236.6 L255.6 236.4 L256.3 236.2 L257.0 235.7 L257.7 237.3 L258.4 237.8 L259.1 236.1 L259.8 239.2 L260.5 237.0 L261.2 238.0 L261.9 234.8 L262.6 237.2 L263.3 233.7 L264.0 233.9 L264.7 234.6 L265.4 233.6 L266.1 230.8 L266.8 231.4 L267.5 232.9 L268.2 234.0 L268.9 232.5 L269.6 231.1 L270.3 232.0 L271.0 230.8 L271.7 233.4 L272.4 232.4 L273.1 234.7 L273.8 235.5 L274.5 236.9 L275.2 236.3 L275.9 238.4 L276.6 237.5 L277.3 239.1 L278.0 239.5 L278.7 236.3 L279.4 237.5 L280.1 236.8 L280.8 235.3 L281.5 235.9 L282.2 235.5 L282.9 238.6 L283.6 239.8 L284.3 240.7 L285.0 242.8 L285.7 240.3 L286.4 239.3 L287.1 237.8 L287.8 238.1 L288.5 235.2 L289.2 235.5 L289.9 231.7 L290.6 230.7 L291.3 232.6 L292.0 232.6 L292.7 232.5 L293.4 234.5 L294.1 233.9 L294.8 235.3 L295.5 234.8 L296.2 234.1 L296.9 235.6 L297.6 236.4 L298.3 234.1 L299.0 232.0 L299.7 231.1 L300.4 228.1 L301.1 228.4 L301.8 228.6 L302.5 232.4 L303.2 230.5 L303.9 230.2 L304.6 233.3 L305.3 233.0 L306.0 233.9 L306.7 234.8 L307.4 235.5 L308.1 235.6 L308.8 237.7 L309.5 238.4 L310.2 238.5 L310.9 239.9 L311.6 240.3 L312.3 242.6 L313.0 244.2 L313.7 245.2 L314.4 245.7 L315.1 243.7 L315.8 244.3 L316.5 241.3 L317.2 240.4 L317.9 240.2 L318.6 241.6 L319.3 242.4 L320.0 245.7 L320.7 245.1 L321.4 244.1 L322.1 245.9 L322.8 244.7 L323.5 246.7 L324.2 246.9 L324.9 244.8 L325.6 245.6 L326.3 244.5 L327.0 244.8 L327.7 246.1 L328.4 244.2 L329.1 243.5 L329.8 245.6 L330.5 245.6 L331.2 245.9 L331.9 246.7 L332.6 246.1 L333.3 246.0 L334.0 250.2 L334.7 249.9 L335.4 249.4 L336.1 249.1 L336.8 251.1 L337.5 249.8 L338.2 249.5 L338.9 249.7 L339.6 248.0 L340.3 247.8 L341.0 248.2 L341.7 248.1 L342.4 249.1 L343.1 248.7 L343.8 249.8 L344.5 249.1 L345.2 249.3 L345.9 249.9 L346.6 250.4 L347.3 250.4 L348.0 248.8 L348.7 249.8 L349.4 250.4 L350.1 253.0 L350.8 253.9 L351.5 252.1 L352.2 253.8 L352.9 253.1 L353.6 253.6 L354.3 254.3 L355.0 253.7 L355.7 255.0 L356.4 252.6 L357.1 253.4 L357.8 254.0 L358.5 253.1 L359.2 253.6 L359.9 250.3 L360.6 250.5 L361.3 247.6 L362.0 247.5 L362.7 247.2 L363.4 247.9 L364.1 245.9 L364.8 245.5 L365.5 243.2 L366.2 245.0 L366.9 242.4 L367.6 242.2 L368.3 240.9 L369.0 242.9 L369.7 244.9 L370.4 244.4 L371.1 245.9 L371.8 246.9 L372.5 246.6 L373.2 245.7 L373.9 244.2 L374.6 246.2 L375.3 242.2 L376.0 242.5 L376.7 244.6 L377.4 247.0 L378.1 247.5 L378.8 248.4 L379.5 248.7 L380.2 248.4 L380.9 249.5 L381.6 248.2 L382.3 247.7 L383.0 248.2 L383.7 248.7 L384.4 249.9 L385.1 250.2 L385.8 248.3 L386.5 247.2 L387.2 247.3 L387.9 250.8 L388.6 248.7 L389.3 250.9 L390.0 253.6 L390.7 252.3 L391.4 254.0 L392.1 254.9 L392.8 255.6 L393.5 258.8 L394.2 259.4 L394.9 256.2 L395.6 258.8 L396.3 257.3 L397.0 257.4 L397.7 257.1 L398.4 255.4 L399.1 256.1 L399.8 255.1 L400.5 257.7 L401.2 257.7 L401.9 255.3 L402.6 253.8 L403.3 255.9 L404.0 254.2 L404.7 255.9 L405.4 257.0 L406.1 257.7 L406.8 256.6 L407.5 257.0 L408.2 258.3 L408.9 259.2 L409.6 257.3 L410.3 258.4 L411.0 256.9 L411.7 255.1 L412.4 253.7 L413.1 253.9 L413.8 253.6 L414.5 249.4 L415.2 250.6 L415.9 249.6 L416.6 249.7 L417.3 250.6 L418.0 251.6 L418.7 253.9 L419.4 252.6 L420.1 252.6 L420.8 252.5 L421.5 255.2 L422.2 254.4 L422.9 255.7 L423.6 257.3 L424.3 257.3 L425.0 257.3 L425.7 257.9 L426.4 259.3 L427.1 258.7 L427.8 259.3 L428.5 259.9 L429.2 259.2 L429.9 259.7 L430.6 258.9 L431.3 260.1 L432.0 259.3 L432.7 256.9 L433.4 258.0 L434.1 258.1 L434.8 255.6 L435.5 254.3 L436.2 254.5 L436.9 251.3 L437.6 252.7 L438.3 254.2 L439.0 255.5 L439.7 254.6 L440.4 255.5 L441.1 258.7 L441.8 255.8 L442.5 255.9 L443.2 257.6 L443.9 254.4 L444.6 252.0 L445.3 255.9 L446.0 254.7 L446.7 254.0 L447.4 255.9 L448.1 253.6 L448.8 255.1 L449.5 253.7 L450.2 253.4 L450.9 254.5 L451.6 255.5 L452.3 256.7 L453.0 257.3 L453.7 256.4 L454.4 257.6 L455.1 260.3 L455.8 259.8 L456.5 259.6 L457.2 260.6 L457.9 260.4 L458.6 260.1 L459.3 258.0 L460.0 257.3 L460.7 257.2 L461.4 256.5 L462.1 253.0 L462.8 252.6 L463.5 252.2 L464.2 252.8 L464.9 250.1 L465.6 252.8 L466.3 250.1 L467.0 250.1 L467.7 251.6 L468.4 250.1 L469.1 250.3 L469.8 249.4 L470.5 250.1 L471.2 248.7 L471.9 249.4 L472.6 249.0 L473.3 247.4 L474.0 248.9 L474.7 247.8 L475.4 245.0 L476.1 247.1 L476.8 244.9 L477.5 245.9 L478.2 244.0 L478.9 243.9 L479.6 244.1 L480.3 245.1 L481.0 241.2 L481.7 241.9 L482.4 241.4 L483.1 242.4 L483.8 240.7 L484.5 241.1 L485.2 241.8 L485.9 241.0 L486.6 239.6 L487.3 240.3 L488.0 241.9 L488.7 243.7 L489.4 244.1 L490.1 246.3 L490.8 247.2 L491.5 246.3 L492.2 246.5 L492.9 247.4 L493.6 248.1 L494.3 246.2 L495.0 246.4 L495.7 248.4 L496.4 246.9 L497.1 245.5" stroke="#ff0000" stroke-dasharray="3.2 1.7" style="stroke-width:2.20"/>
</g>
<rect x="210.7" y="5.5" width="286.9" height="255.8" fill="none" stroke="#606060" stroke-width="1"/>
<line x1="210.7" y1="261.3" x2="210.7" y2="258.3" stroke="#606060" stroke-width="1"/>
<line x1="210.7" y1="5.5" x2="210.7" y2="8.5" stroke="#606060" stroke-width="1"/>
<text class="tk" x="210.9" y="280.9" text-anchor="middle" textLength="6.9" lengthAdjust="spacingAndGlyphs">0</text>
<line x1="258.5" y1="261.3" x2="258.5" y2="258.3" stroke="#606060" stroke-width="1"/>
<line x1="258.5" y1="5.5" x2="258.5" y2="8.5" stroke="#606060" stroke-width="1"/>
<text class="tk" x="258.7" y="280.9" text-anchor="middle" textLength="27.6" lengthAdjust="spacingAndGlyphs">1000</text>
<line x1="306.3" y1="261.3" x2="306.3" y2="258.3" stroke="#606060" stroke-width="1"/>
<line x1="306.3" y1="5.5" x2="306.3" y2="8.5" stroke="#606060" stroke-width="1"/>
<text class="tk" x="306.5" y="280.9" text-anchor="middle" textLength="27.6" lengthAdjust="spacingAndGlyphs">2000</text>
<line x1="354.1" y1="261.3" x2="354.1" y2="258.3" stroke="#606060" stroke-width="1"/>
<line x1="354.1" y1="5.5" x2="354.1" y2="8.5" stroke="#606060" stroke-width="1"/>
<text class="tk" x="354.3" y="280.9" text-anchor="middle" textLength="27.6" lengthAdjust="spacingAndGlyphs">3000</text>
<line x1="402.0" y1="261.3" x2="402.0" y2="258.3" stroke="#606060" stroke-width="1"/>
<line x1="402.0" y1="5.5" x2="402.0" y2="8.5" stroke="#606060" stroke-width="1"/>
<text class="tk" x="402.2" y="280.9" text-anchor="middle" textLength="27.6" lengthAdjust="spacingAndGlyphs">4000</text>
<line x1="449.8" y1="261.3" x2="449.8" y2="258.3" stroke="#606060" stroke-width="1"/>
<line x1="449.8" y1="5.5" x2="449.8" y2="8.5" stroke="#606060" stroke-width="1"/>
<text class="tk" x="450.0" y="280.9" text-anchor="middle" textLength="27.6" lengthAdjust="spacingAndGlyphs">5000</text>
<line x1="497.6" y1="261.3" x2="497.6" y2="258.3" stroke="#606060" stroke-width="1"/>
<line x1="497.6" y1="5.5" x2="497.6" y2="8.5" stroke="#606060" stroke-width="1"/>
<text class="tk" x="497.8" y="280.9" text-anchor="middle" textLength="27.6" lengthAdjust="spacingAndGlyphs">6000</text>
<line x1="210.7" y1="5.5" x2="213.7" y2="5.5" stroke="#606060" stroke-width="1"/>
<line x1="497.6" y1="5.5" x2="494.6" y2="5.5" stroke="#606060" stroke-width="1"/>
<text class="tk" x="205.7" y="11.0" text-anchor="end" textLength="6.9" lengthAdjust="spacingAndGlyphs">0</text>
<line x1="210.7" y1="88.2" x2="213.7" y2="88.2" stroke="#606060" stroke-width="1"/>
<line x1="497.6" y1="88.2" x2="494.6" y2="88.2" stroke="#606060" stroke-width="1"/>
<text class="tk" x="205.7" y="93.7" text-anchor="end" textLength="10.8" lengthAdjust="spacingAndGlyphs">-5</text>
<line x1="210.7" y1="170.8" x2="213.7" y2="170.8" stroke="#606060" stroke-width="1"/>
<line x1="497.6" y1="170.8" x2="494.6" y2="170.8" stroke="#606060" stroke-width="1"/>
<text class="tk" x="205.7" y="176.3" text-anchor="end" textLength="17.7" lengthAdjust="spacingAndGlyphs">-10</text>
<line x1="210.7" y1="253.5" x2="213.7" y2="253.5" stroke="#606060" stroke-width="1"/>
<line x1="497.6" y1="253.5" x2="494.6" y2="253.5" stroke="#606060" stroke-width="1"/>
<text class="tk" x="205.7" y="259.0" text-anchor="end" textLength="17.7" lengthAdjust="spacingAndGlyphs">-15</text>
<text class="lb" transform="translate(182.4 133.0) rotate(-90)" text-anchor="middle" textLength="67.0" lengthAdjust="spacingAndGlyphs">MSD(dB)</text>
<text class="lb" x="353.8" y="301.5" text-anchor="middle" textLength="56.0" lengthAdjust="spacingAndGlyphs" style="font-size:15.2px">Iterations</text>
<text class="cap" x="349.6" y="332.2" text-anchor="middle">(a)</text>
<rect x="321.1" y="12.9" width="169.9" height="71.1" fill="#ffffff" stroke="#adadad" stroke-width="1.2"/>
<line x1="323.8" y1="23.0" x2="350.2" y2="23.0" stroke="#000000" stroke-width="2.40"/>
<text class="lg" x="352.6" y="27.6" textLength="116.2" lengthAdjust="spacingAndGlyphs">MVC(<tspan class="g">μ</tspan>=0.008,<tspan class="g">τ</tspan>=0.001)</text>
<line x1="323.8" y1="39.9" x2="350.2" y2="39.9" stroke="#ff00ff" stroke-width="2.40"/>
<text class="lg" x="352.6" y="44.5" textLength="86.7" lengthAdjust="spacingAndGlyphs">CR-LMM(<tspan class="g">μ</tspan>=0.04)</text>
<line x1="323.8" y1="57.3" x2="350.2" y2="57.3" stroke="#0000ff" stroke-width="2.40"/>
<text class="lg" x="352.6" y="61.9" textLength="112.7" lengthAdjust="spacingAndGlyphs">CR-MCC(<tspan class="g">μ</tspan>=0.04,<tspan class="g">σ</tspan> =1)</text>
<line x1="323.8" y1="74.3" x2="350.2" y2="74.3" stroke="#ff0000" stroke-width="2.40" stroke-dasharray="6.5 6.2"/>
<text class="lg" x="352.6" y="78.9" textLength="135.5" lengthAdjust="spacingAndGlyphs">CR-MVC(<tspan class="g">μ</tspan>=0.008,<tspan class="g">τ</tspan>=0.001)</text>
</g>
<g id="chart-b">
<clipPath id="clip-b"><rect x="38.7" y="349.0" width="288.5" height="256.7"/></clipPath>
<line x1="86.7" y1="350.2" x2="86.7" y2="605.7" stroke="#ebebeb" stroke-width="1"/>
<line x1="134.7" y1="350.2" x2="134.7" y2="605.7" stroke="#ebebeb" stroke-width="1"/>
<line x1="182.7" y1="350.2" x2="182.7" y2="605.7" stroke="#ebebeb" stroke-width="1"/>
<line x1="230.6" y1="350.2" x2="230.6" y2="605.7" stroke="#ebebeb" stroke-width="1"/>
<line x1="278.6" y1="350.2" x2="278.6" y2="605.7" stroke="#ebebeb" stroke-width="1"/>
<line x1="38.7" y1="414.1" x2="326.6" y2="414.1" stroke="#ebebeb" stroke-width="1"/>
<line x1="38.7" y1="477.9" x2="326.6" y2="477.9" stroke="#ebebeb" stroke-width="1"/>
<line x1="38.7" y1="541.8" x2="326.6" y2="541.8" stroke="#ebebeb" stroke-width="1"/>
<g clip-path="url(#clip-b)">
<path class="c" d="M39.0 350.5 L39.4 351.5 L39.9 352.5 L40.3 353.5 L40.8 354.4 L41.2 355.4 L41.7 356.4 L42.1 357.4 L42.6 358.4 L43.0 359.4 L43.5 360.3 L43.9 361.3 L44.4 362.3 L44.8 363.3 L45.3 364.3 L45.7 365.3 L46.2 366.1 L46.6 366.8 L47.1 367.4 L47.5 368.1 L48.0 368.7 L48.4 369.3 L48.9 370.0 L49.3 370.6 L49.8 371.3 L50.2 371.9 L50.7 372.6 L51.1 373.2 L51.6 373.8 L52.0 374.5 L52.5 375.1 L52.9 375.8 L53.4 376.4 L53.8 377.0 L54.3 377.5 L54.7 377.9 L55.2 378.4 L55.6 378.8 L56.1 379.3 L56.5 379.7 L57.0 380.2 L57.4 380.6 L57.9 381.1 L58.3 381.5 L58.8 382.0 L59.2 382.4 L59.7 382.9 L60.1 383.3 L60.6 383.7 L61.0 384.2 L61.5 384.8 L61.9 385.0 L62.4 385.1 L62.8 385.4 L63.3 385.7 L63.7 386.4 L64.2 386.4 L64.6 387.3 L65.1 387.2 L65.5 387.4 L66.0 387.5 L66.4 388.3 L66.9 388.1 L67.3 388.2 L67.8 389.0 L68.2 389.1 L68.7 389.8 L69.1 389.6 L69.6 389.1 L70.0 390.4 L70.5 389.7 L70.9 391.2 L71.4 391.6 L71.8 391.0 L72.3 391.0 L72.7 391.2 L73.2 392.2 L73.6 392.1 L74.1 392.2 L74.5 392.6 L75.0 393.7 L75.4 393.3 L75.9 393.7 L76.3 393.9 L76.8 394.1 L77.2 394.3 L77.7 393.8 L78.1 394.1 L78.6 394.1 L79.0 394.2 L79.5 395.0 L79.9 394.6 L80.4 394.9 L80.8 394.9 L81.3 395.0 L81.7 395.7 L82.2 395.4 L82.6 395.4 L83.1 395.8 L83.5 395.8 L84.0 396.0 L84.4 395.8 L84.9 395.1 L85.3 396.0 L85.8 396.0 L86.2 396.2 L86.7 395.5 L87.1 396.6 L87.6 395.5 L88.0 396.2 L88.5 396.0 L88.9 395.8 L89.4 396.3 L89.8 395.9 L90.3 395.3 L90.7 395.8 L91.2 396.5 L91.6 397.2 L92.1 396.1 L92.5 396.7 L93.0 397.3 L93.4 397.2 L93.9 396.9 L94.3 396.7 L94.8 396.7 L95.2 397.2 L95.7 397.4 L96.1 396.9 L96.6 397.2 L97.0 397.9 L97.5 397.6 L97.9 397.5 L98.4 397.6 L98.8 397.4 L99.3 398.0 L99.7 398.2 L100.2 398.3 L100.6 397.8 L101.1 397.8 L101.5 398.1 L102.0 398.1 L102.4 398.0 L102.9 397.9 L103.3 397.2 L103.8 396.9 L104.2 397.7 L104.7 397.3 L105.1 397.3 L105.6 397.1 L106.0 397.0 L106.5 398.0 L106.9 397.7 L107.4 397.2 L107.8 397.8 L108.3 397.8 L108.7 397.9 L109.2 398.6 L109.6 397.9 L110.1 397.5 L110.5 398.0 L111.0 397.8 L111.4 398.3 L111.9 398.2 L112.3 398.3 L112.8 398.1 L113.2 398.5 L113.7 398.2 L114.1 398.6 L114.6 398.3 L115.0 398.0 L115.5 398.5 L115.9 398.1 L116.4 398.8 L116.8 398.4 L117.3 398.4 L117.7 398.2 L118.2 398.1 L118.6 397.3 L119.1 398.5 L119.5 397.8 L120.0 398.3 L120.4 397.8 L120.9 397.9 L121.3 397.8 L121.8 397.5 L122.2 397.8 L122.7 398.0 L123.1 397.6 L123.6 397.4 L124.0 397.6 L124.5 397.9 L124.9 398.2 L125.4 398.1 L125.8 398.0 L126.3 397.5 L126.7 398.2 L127.2 397.9 L127.6 397.8 L128.1 398.2 L128.5 398.1 L129.0 398.1 L129.4 397.6 L129.9 397.8 L130.3 397.4 L130.8 398.1 L131.2 398.0 L131.7 398.3 L132.1 398.1 L132.6 397.9 L133.0 398.8 L133.5 397.7 L133.9 397.6 L134.4 397.9 L134.8 398.3 L135.3 398.0 L135.7 398.0 L136.2 397.7 L136.6 398.7 L137.1 397.9 L137.5 397.8 L138.0 398.1 L138.4 397.9 L138.9 398.1 L139.3 398.7 L139.8 398.1 L140.2 398.2 L140.7 398.1 L141.1 398.2 L141.6 398.6 L142.0 398.5 L142.5 398.2 L142.9 398.0 L143.4 398.3 L143.8 398.6 L144.3 398.3 L144.7 398.3 L145.2 397.7 L145.6 398.7 L146.1 397.9 L146.5 398.0 L147.0 398.3 L147.4 398.4 L147.9 398.5 L148.3 398.2 L148.8 398.4 L149.2 398.3 L149.7 397.9 L150.1 398.4 L150.6 398.3 L151.0 398.7 L151.5 398.5 L151.9 398.9 L152.4 398.8 L152.8 398.9 L153.3 399.0 L153.7 398.8 L154.2 398.5 L154.6 399.1 L155.1 398.3 L155.5 398.6 L156.0 398.9 L156.4 398.5 L156.9 398.9 L157.3 398.4 L157.8 398.5 L158.2 398.9 L158.7 398.9 L159.1 399.1 L159.6 398.7 L160.0 398.8 L160.5 398.9 L160.9 398.9 L161.4 398.3 L161.8 398.5 L162.3 399.3 L162.7 398.3 L163.2 399.0 L163.6 398.6 L164.1 399.1 L164.5 398.5 L165.0 398.8 L165.4 398.1 L165.9 398.8 L166.3 399.2 L166.8 398.3 L167.2 399.3 L167.7 398.6 L168.1 398.8 L168.6 398.1 L169.0 399.3 L169.5 398.6 L169.9 398.7 L170.4 398.5 L170.8 398.6 L171.3 399.3 L171.7 398.8 L172.2 399.3 L172.6 398.9 L173.1 399.1 L173.5 398.8 L174.0 399.1 L174.4 399.8 L174.9 399.2 L175.3 399.2 L175.8 398.8 L176.2 399.4 L176.7 399.5 L177.1 398.4 L177.6 398.6 L178.0 399.8 L178.5 399.2 L178.9 399.1 L179.4 399.3 L179.8 399.5 L180.3 399.4 L180.7 399.0 L181.2 399.8 L181.6 399.1 L182.1 398.8 L182.5 399.0 L183.0 399.1 L183.4 399.0 L183.9 399.1 L184.3 399.3 L184.8 398.4 L185.2 398.9 L185.7 399.5 L186.1 399.4 L186.6 399.0 L187.0 399.0 L187.5 399.6 L187.9 399.2 L188.4 399.1 L188.8 399.9 L189.3 399.2 L189.7 399.5 L190.2 399.3 L190.6 399.3 L191.1 399.0 L191.5 399.0 L192.0 399.8 L192.4 398.9 L192.9 399.5 L193.3 398.9 L193.8 399.3 L194.2 399.4 L194.7 398.8 L195.1 399.8 L195.6 399.3 L196.0 399.8 L196.5 399.1 L196.9 399.8 L197.4 400.2 L197.8 399.5 L198.3 399.2 L198.7 399.6 L199.2 399.5 L199.6 399.4 L200.1 399.5 L200.5 399.3 L201.0 399.6 L201.4 399.4 L201.9 399.2 L202.3 399.8 L202.8 399.4 L203.2 400.2 L203.7 399.4 L204.1 399.2 L204.6 399.3 L205.0 399.6 L205.5 399.2 L205.9 399.0 L206.4 400.0 L206.8 399.0 L207.3 400.0 L207.7 399.5 L208.2 399.0 L208.6 400.0 L209.1 399.3 L209.5 399.1 L210.0 399.4 L210.4 399.8 L210.9 399.6 L211.3 399.7 L211.8 400.0 L212.2 399.5 L212.7 399.5 L213.1 399.3 L213.6 398.9 L214.0 399.3 L214.5 399.9 L214.9 398.7 L215.4 399.8 L215.8 399.4 L216.3 399.0 L216.7 399.4 L217.2 400.0 L217.6 399.1 L218.1 399.6 L218.5 399.7 L219.0 399.0 L219.4 399.5 L219.9 399.5 L220.3 399.1 L220.8 399.5 L221.2 399.2 L221.7 399.1 L222.1 398.8 L222.6 399.4 L223.0 399.1 L223.5 399.1 L223.9 398.9 L224.4 398.8 L224.8 399.0 L225.3 399.5 L225.7 399.0 L226.2 399.7 L226.6 399.4 L227.1 399.3 L227.5 398.8 L228.0 399.9 L228.4 398.7 L228.9 399.4 L229.3 399.8 L229.8 399.1 L230.2 399.0 L230.7 399.2 L231.1 399.5 L231.6 399.7 L232.0 399.4 L232.5 398.8 L232.9 398.9 L233.4 399.2 L233.8 398.7 L234.3 399.1 L234.7 399.9 L235.2 398.8 L235.6 399.6 L236.1 398.8 L236.5 399.0 L237.0 399.1 L237.4 398.6 L237.9 399.1 L238.3 399.6 L238.8 399.4 L239.2 399.4 L239.7 398.8 L240.1 399.0 L240.6 399.2 L241.0 399.3 L241.5 399.6 L241.9 398.7 L242.4 399.7 L242.8 399.0 L243.3 399.0 L243.7 398.6 L244.2 399.0 L244.6 399.0 L245.1 398.6 L245.5 398.9 L246.0 399.1 L246.4 398.9 L246.9 399.3 L247.3 398.7 L247.8 399.3 L248.2 399.0 L248.7 399.1 L249.1 398.4 L249.6 399.0 L250.0 399.0 L250.5 399.3 L250.9 398.6 L251.4 399.5 L251.8 398.6 L252.3 399.5 L252.7 399.2 L253.2 398.7 L253.6 399.7 L254.1 398.6 L254.5 398.9 L255.0 399.1 L255.4 399.2 L255.9 399.1 L256.3 399.3 L256.8 399.1 L257.2 399.0 L257.7 398.6 L258.1 398.8 L258.6 399.3 L259.0 398.6 L259.5 399.0 L259.9 398.2 L260.4 398.7 L260.8 398.4 L261.3 399.4 L261.7 398.3 L262.2 398.9 L262.6 399.2 L263.1 399.2 L263.5 399.2 L264.0 399.3 L264.4 399.1 L264.9 399.2 L265.3 398.9 L265.8 398.9 L266.2 398.3 L266.7 399.0 L267.1 399.4 L267.6 398.7 L268.0 398.5 L268.5 399.0 L268.9 399.3 L269.4 399.4 L269.8 398.4 L270.3 399.1 L270.7 398.7 L271.2 399.0 L271.6 398.2 L272.1 399.2 L272.5 398.8 L273.0 399.0 L273.4 398.9 L273.9 398.6 L274.3 399.1 L274.8 398.7 L275.2 398.7 L275.7 399.1 L276.1 398.9 L276.6 398.7 L277.0 399.2 L277.5 398.7 L277.9 398.9 L278.4 399.2 L278.8 399.2 L279.3 399.3 L279.7 399.5 L280.2 398.9 L280.6 398.6 L281.1 399.5 L281.5 399.4 L282.0 398.8 L282.4 399.1 L282.9 398.8 L283.3 398.3 L283.8 399.2 L284.2 399.0 L284.7 398.9 L285.1 399.5 L285.6 399.4 L286.0 398.7 L286.5 398.5 L286.9 398.2 L287.4 398.9 L287.8 398.8 L288.3 399.0 L288.7 398.9 L289.2 398.7 L289.6 398.7 L290.1 398.4 L290.5 399.4 L291.0 398.9 L291.4 399.4 L291.9 399.0 L292.3 399.3 L292.8 399.6 L293.2 399.4 L293.7 399.2 L294.1 400.4 L294.6 399.6 L295.0 400.0 L295.5 399.8 L295.9 399.7 L296.4 400.5 L296.8 400.2 L297.3 400.3 L297.7 399.5 L298.2 400.4 L298.6 400.7 L299.1 400.5 L299.5 400.2 L300.0 400.6 L300.4 400.2 L300.9 400.3 L301.3 400.3 L301.8 400.3 L302.2 399.4 L302.7 399.9 L303.1 399.4 L303.6 398.9 L304.0 399.6 L304.5 398.8 L304.9 399.2 L305.4 398.5 L305.8 398.8 L306.3 398.9 L306.7 399.0 L307.2 398.8 L307.6 398.6 L308.1 398.7 L308.5 399.7 L309.0 399.1 L309.4 399.3 L309.9 400.1 L310.3 399.0 L310.8 399.0 L311.2 399.4 L311.7 399.8 L312.1 399.5 L312.6 399.7 L313.0 399.5 L313.5 398.8 L313.9 399.3 L314.4 398.5 L314.8 399.1 L315.3 398.7 L315.7 399.3 L316.2 398.6 L316.6 398.1 L317.1 398.3 L317.5 398.2 L318.0 397.8 L318.4 397.5 L318.9 398.4 L319.3 398.5 L319.8 397.8 L320.2 397.8 L320.7 397.7 L321.1 398.2 L321.6 398.2 L322.0 397.4 L322.5 397.6 L322.9 397.5 L323.4 397.7 L323.8 397.9 L324.3 397.9 L324.7 397.4 L325.2 397.1 L325.6 397.6 L326.1 397.6 L326.5 397.3" stroke="#000000"/>
<path class="c" d="M39.0 350.5 L39.4 351.4 L39.9 352.3 L40.3 353.2 L40.8 354.1 L41.2 355.1 L41.7 356.0 L42.1 356.9 L42.6 357.8 L43.0 358.7 L43.5 359.6 L43.9 360.5 L44.4 361.4 L44.8 362.3 L45.3 363.2 L45.7 364.2 L46.2 365.1 L46.6 366.0 L47.1 366.9 L47.5 367.8 L48.0 368.7 L48.4 369.8 L48.9 370.9 L49.3 372.1 L49.8 373.3 L50.2 374.5 L50.7 375.7 L51.1 376.8 L51.6 378.0 L52.0 379.2 L52.5 380.4 L52.9 381.6 L53.4 382.7 L53.8 383.9 L54.3 385.1 L54.7 386.3 L55.2 387.5 L55.6 388.7 L56.1 389.8 L56.5 391.0 L57.0 392.2 L57.4 393.4 L57.9 394.6 L58.3 395.7 L58.8 396.9 L59.2 398.1 L59.7 399.3 L60.1 400.5 L60.6 401.6 L61.0 402.8 L61.5 404.0 L61.9 405.3 L62.4 406.3 L62.8 407.6 L63.3 408.7 L63.7 410.3 L64.2 411.4 L64.6 412.1 L65.1 413.6 L65.5 414.9 L66.0 415.9 L66.4 416.7 L66.9 418.0 L67.3 419.4 L67.8 420.4 L68.2 421.2 L68.7 422.7 L69.1 423.4 L69.6 424.2 L70.0 426.0 L70.5 427.3 L70.9 428.3 L71.4 429.7 L71.8 430.9 L72.3 431.7 L72.7 432.5 L73.2 433.8 L73.6 434.5 L74.1 436.0 L74.5 437.1 L75.0 438.1 L75.4 439.2 L75.9 439.1 L76.3 440.8 L76.8 441.2 L77.2 442.4 L77.7 443.1 L78.1 443.5 L78.6 444.9 L79.0 445.3 L79.5 446.5 L79.9 447.0 L80.4 447.8 L80.8 448.8 L81.3 450.1 L81.7 450.4 L82.2 450.8 L82.6 451.9 L83.1 452.0 L83.5 452.5 L84.0 452.9 L84.4 453.8 L84.9 454.4 L85.3 454.8 L85.8 455.0 L86.2 456.1 L86.7 456.8 L87.1 457.2 L87.6 457.7 L88.0 458.1 L88.5 458.5 L88.9 459.2 L89.4 459.1 L89.8 458.8 L90.3 459.7 L90.7 459.6 L91.2 460.6 L91.6 460.1 L92.1 460.4 L92.5 460.7 L93.0 460.9 L93.4 461.1 L93.9 461.3 L94.3 461.5 L94.8 461.5 L95.2 461.8 L95.7 461.7 L96.1 462.1 L96.6 462.2 L97.0 462.4 L97.5 462.6 L97.9 462.8 L98.4 463.2 L98.8 463.1 L99.3 463.4 L99.7 463.6 L100.2 463.6 L100.6 463.8 L101.1 464.2 L101.5 463.7 L102.0 464.6 L102.4 464.2 L102.9 463.5 L103.3 464.2 L103.8 463.5 L104.2 464.0 L104.7 463.3 L105.1 463.4 L105.6 463.5 L106.0 462.9 L106.5 462.7 L106.9 462.8 L107.4 463.2 L107.8 462.9 L108.3 462.8 L108.7 462.3 L109.2 462.1 L109.6 462.1 L110.1 461.8 L110.5 461.2 L111.0 461.5 L111.4 460.9 L111.9 460.6 L112.3 460.7 L112.8 460.4 L113.2 460.5 L113.7 460.1 L114.1 459.7 L114.6 459.7 L115.0 459.3 L115.5 459.1 L115.9 459.2 L116.4 458.6 L116.8 457.9 L117.3 457.6 L117.7 457.1 L118.2 456.8 L118.6 456.1 L119.1 456.3 L119.5 455.7 L120.0 455.6 L120.4 455.3 L120.9 454.7 L121.3 453.9 L121.8 453.4 L122.2 453.7 L122.7 453.3 L123.1 452.3 L123.6 452.2 L124.0 452.6 L124.5 452.1 L124.9 452.4 L125.4 451.7 L125.8 451.6 L126.3 451.1 L126.7 450.8 L127.2 450.2 L127.6 449.8 L128.1 450.6 L128.5 450.2 L129.0 449.6 L129.4 449.9 L129.9 448.9 L130.3 449.5 L130.8 448.9 L131.2 449.0 L131.7 447.7 L132.1 448.4 L132.6 448.0 L133.0 447.5 L133.5 446.9 L133.9 447.0 L134.4 446.7 L134.8 446.1 L135.3 445.7 L135.7 445.6 L136.2 445.5 L136.6 445.9 L137.1 445.7 L137.5 445.6 L138.0 445.1 L138.4 444.3 L138.9 444.3 L139.3 444.0 L139.8 444.1 L140.2 444.4 L140.7 443.7 L141.1 443.5 L141.6 443.6 L142.0 443.4 L142.5 443.3 L142.9 442.5 L143.4 442.3 L143.8 442.1 L144.3 442.3 L144.7 441.8 L145.2 441.2 L145.6 441.8 L146.1 440.8 L146.5 440.7 L147.0 440.5 L147.4 440.0 L147.9 440.0 L148.3 439.8 L148.8 439.6 L149.2 439.3 L149.7 438.8 L150.1 438.4 L150.6 438.7 L151.0 438.0 L151.5 438.1 L151.9 437.6 L152.4 437.9 L152.8 436.9 L153.3 436.1 L153.7 436.3 L154.2 436.4 L154.6 436.4 L155.1 436.0 L155.5 435.4 L156.0 435.5 L156.4 434.4 L156.9 434.3 L157.3 433.9 L157.8 434.1 L158.2 434.1 L158.7 433.4 L159.1 433.3 L159.6 432.8 L160.0 432.6 L160.5 432.4 L160.9 432.6 L161.4 432.0 L161.8 431.8 L162.3 431.7 L162.7 431.3 L163.2 430.6 L163.6 431.1 L164.1 430.3 L164.5 430.1 L165.0 429.8 L165.4 429.7 L165.9 429.2 L166.3 429.1 L166.8 429.3 L167.2 428.3 L167.7 427.7 L168.1 428.4 L168.6 427.8 L169.0 427.7 L169.5 427.4 L169.9 426.8 L170.4 426.7 L170.8 425.9 L171.3 426.1 L171.7 425.9 L172.2 425.3 L172.6 425.2 L173.1 425.1 L173.5 425.0 L174.0 424.6 L174.4 424.8 L174.9 424.3 L175.3 424.1 L175.8 423.1 L176.2 423.3 L176.7 423.3 L177.1 423.0 L177.6 422.9 L178.0 422.5 L178.5 422.2 L178.9 422.3 L179.4 422.1 L179.8 421.8 L180.3 421.7 L180.7 421.8 L181.2 421.4 L181.6 421.3 L182.1 421.1 L182.5 420.7 L183.0 420.4 L183.4 420.9 L183.9 420.1 L184.3 420.1 L184.8 419.5 L185.2 419.1 L185.7 419.0 L186.1 419.0 L186.6 418.6 L187.0 419.0 L187.5 418.4 L187.9 418.2 L188.4 418.6 L188.8 417.8 L189.3 417.6 L189.7 418.2 L190.2 417.5 L190.6 417.2 L191.1 416.8 L191.5 417.1 L192.0 416.9 L192.4 415.7 L192.9 416.1 L193.3 416.0 L193.8 415.9 L194.2 415.2 L194.7 415.4 L195.1 415.7 L195.6 415.3 L196.0 414.5 L196.5 414.7 L196.9 414.2 L197.4 414.4 L197.8 413.3 L198.3 414.1 L198.7 413.7 L199.2 413.7 L199.6 412.8 L200.1 412.9 L200.5 412.6 L201.0 412.9 L201.4 412.7 L201.9 413.1 L202.3 412.6 L202.8 411.6 L203.2 412.3 L203.7 412.1 L204.1 412.2 L204.6 412.0 L205.0 411.5 L205.5 411.5 L205.9 411.8 L206.4 411.1 L206.8 411.3 L207.3 410.8 L207.7 411.3 L208.2 411.2 L208.6 410.8 L209.1 410.3 L209.5 410.3 L210.0 410.3 L210.4 410.2 L210.9 410.2 L211.3 409.6 L211.8 409.5 L212.2 409.5 L212.7 409.9 L213.1 409.2 L213.6 409.4 L214.0 409.5 L214.5 408.7 L214.9 408.5 L215.4 408.4 L215.8 408.9 L216.3 408.8 L216.7 408.5 L217.2 408.1 L217.6 408.3 L218.1 407.7 L218.5 408.2 L219.0 407.9 L219.4 407.8 L219.9 408.1 L220.3 407.3 L220.8 407.1 L221.2 407.5 L221.7 407.5 L222.1 406.8 L222.6 406.7 L223.0 406.8 L223.5 406.9 L223.9 406.4 L224.4 406.8 L224.8 407.0 L225.3 406.2 L225.7 406.0 L226.2 406.7 L226.6 405.5 L227.1 406.1 L227.5 406.0 L228.0 405.1 L228.4 405.6 L228.9 405.7 L229.3 405.0 L229.8 404.4 L230.2 404.7 L230.7 405.5 L231.1 404.5 L231.6 405.0 L232.0 404.3 L232.5 404.5 L232.9 404.3 L233.4 404.4 L233.8 404.6 L234.3 404.4 L234.7 404.0 L235.2 404.2 L235.6 404.1 L236.1 404.0 L236.5 403.8 L237.0 403.7 L237.4 404.0 L237.9 404.4 L238.3 403.8 L238.8 403.7 L239.2 403.3 L239.7 403.4 L240.1 403.9 L240.6 403.3 L241.0 403.5 L241.5 403.5 L241.9 403.0 L242.4 403.5 L242.8 403.3 L243.3 403.2 L243.7 402.7 L244.2 402.9 L244.6 402.2 L245.1 402.8 L245.5 402.7 L246.0 402.5 L246.4 402.6 L246.9 402.0 L247.3 402.2 L247.8 401.9 L248.2 402.3 L248.7 402.0 L249.1 402.4 L249.6 401.8 L250.0 402.1 L250.5 401.9 L250.9 401.9 L251.4 402.0 L251.8 402.2 L252.3 402.0 L252.7 401.2 L253.2 401.6 L253.6 401.1 L254.1 401.4 L254.5 401.0 L255.0 401.5 L255.4 401.4 L255.9 401.1 L256.3 400.7 L256.8 400.5 L257.2 400.5 L257.7 400.7 L258.1 400.9 L258.6 401.0 L259.0 400.9 L259.5 400.3 L259.9 400.4 L260.4 400.7 L260.8 400.6 L261.3 400.3 L261.7 400.0 L262.2 400.9 L262.6 400.3 L263.1 399.8 L263.5 400.4 L264.0 400.3 L264.4 400.2 L264.9 400.2 L265.3 399.8 L265.8 400.5 L266.2 400.1 L266.7 399.5 L267.1 400.0 L267.6 399.4 L268.0 400.1 L268.5 399.8 L268.9 400.1 L269.4 400.2 L269.8 399.9 L270.3 400.6 L270.7 399.9 L271.2 400.0 L271.6 399.9 L272.1 399.7 L272.5 399.6 L273.0 400.1 L273.4 400.0 L273.9 400.2 L274.3 399.5 L274.8 399.5 L275.2 399.6 L275.7 399.7 L276.1 399.6 L276.6 399.0 L277.0 399.5 L277.5 399.6 L277.9 399.6 L278.4 399.4 L278.8 399.5 L279.3 399.8 L279.7 399.8 L280.2 399.4 L280.6 399.4 L281.1 399.4 L281.5 399.6 L282.0 399.4 L282.4 399.4 L282.9 399.8 L283.3 399.3 L283.8 399.2 L284.2 399.5 L284.7 400.1 L285.1 399.8 L285.6 399.2 L286.0 399.9 L286.5 399.8 L286.9 399.8 L287.4 399.3 L287.8 399.6 L288.3 399.7 L288.7 400.1 L289.2 399.7 L289.6 399.7 L290.1 399.5 L290.5 400.2 L291.0 399.8 L291.4 400.1 L291.9 399.8 L292.3 400.0 L292.8 399.6 L293.2 400.0 L293.7 399.6 L294.1 399.6 L294.6 400.0 L295.0 399.4 L295.5 399.7 L295.9 399.8 L296.4 399.7 L296.8 399.7 L297.3 399.9 L297.7 399.4 L298.2 400.0 L298.6 400.0 L299.1 399.6 L299.5 399.5 L300.0 399.1 L300.4 399.1 L300.9 399.1 L301.3 399.3 L301.8 399.7 L302.2 398.7 L302.7 399.4 L303.1 399.2 L303.6 399.2 L304.0 399.1 L304.5 398.8 L304.9 398.8 L305.4 398.9 L305.8 399.2 L306.3 398.7 L306.7 399.2 L307.2 399.1 L307.6 398.6 L308.1 398.8 L308.5 399.0 L309.0 398.3 L309.4 398.4 L309.9 398.9 L310.3 398.8 L310.8 398.4 L311.2 398.3 L311.7 398.7 L312.1 398.9 L312.6 398.4 L313.0 398.3 L313.5 398.9 L313.9 398.8 L314.4 398.1 L314.8 398.2 L315.3 398.4 L315.7 398.8 L316.2 398.7 L316.6 398.4 L317.1 397.8 L317.5 399.0 L318.0 398.1 L318.4 398.8 L318.9 398.7 L319.3 398.4 L319.8 398.3 L320.2 397.9 L320.7 397.7 L321.1 397.8 L321.6 397.6 L322.0 397.9 L322.5 397.5 L322.9 398.3 L323.4 398.5 L323.8 397.2 L324.3 397.4 L324.7 397.9 L325.2 397.8 L325.6 397.6 L326.1 397.6 L326.5 397.7" stroke="#0000ff"/>
<path class="c" d="M39.0 350.5 L39.4 351.5 L39.9 352.4 L40.3 353.4 L40.8 354.4 L41.2 355.3 L41.7 356.3 L42.1 357.2 L42.6 358.2 L43.0 359.2 L43.5 360.1 L43.9 361.1 L44.4 362.1 L44.8 363.0 L45.3 364.0 L45.7 365.0 L46.2 365.9 L46.6 366.9 L47.1 367.9 L47.5 368.8 L48.0 369.8 L48.4 370.8 L48.9 371.9 L49.3 373.1 L49.8 374.2 L50.2 375.3 L50.7 376.4 L51.1 377.6 L51.6 378.7 L52.0 379.8 L52.5 380.9 L52.9 382.1 L53.4 383.2 L53.8 384.3 L54.3 385.4 L54.7 386.6 L55.2 387.7 L55.6 388.8 L56.1 389.9 L56.5 391.1 L57.0 392.2 L57.4 393.3 L57.9 394.4 L58.3 395.6 L58.8 396.7 L59.2 397.8 L59.7 398.9 L60.1 400.1 L60.6 401.2 L61.0 402.3 L61.5 403.4 L61.9 404.6 L62.4 405.7 L62.8 406.8 L63.3 407.9 L63.7 409.1 L64.2 410.2 L64.6 411.3 L65.1 412.4 L65.5 413.6 L66.0 414.7 L66.4 415.8 L66.9 416.9 L67.3 418.1 L67.8 419.2 L68.2 420.3 L68.7 421.4 L69.1 422.6 L69.6 423.7 L70.0 424.8 L70.5 425.9 L70.9 427.1 L71.4 428.2 L71.8 429.3 L72.3 430.4 L72.7 431.6 L73.2 432.7 L73.6 433.8 L74.1 434.9 L74.5 436.1 L75.0 437.3 L75.4 438.6 L75.9 439.8 L76.3 441.1 L76.8 442.4 L77.2 443.6 L77.7 444.9 L78.1 446.1 L78.6 447.4 L79.0 448.7 L79.5 449.9 L79.9 451.2 L80.4 451.8 L80.8 452.0 L81.3 452.1 L81.7 452.5 L82.2 453.7 L82.6 453.4 L83.1 452.9 L83.5 453.0 L84.0 452.9 L84.4 454.2 L84.9 454.3 L85.3 452.2 L85.8 454.5 L86.2 453.1 L86.7 455.7 L87.1 454.1 L87.6 456.1 L88.0 453.8 L88.5 455.0 L88.9 456.8 L89.4 458.8 L89.8 459.2 L90.3 457.8 L90.7 460.7 L91.2 461.5 L91.6 461.9 L92.1 462.6 L92.5 466.5 L93.0 464.3 L93.4 464.3 L93.9 466.8 L94.3 466.8 L94.8 467.1 L95.2 468.8 L95.7 469.0 L96.1 469.5 L96.6 470.9 L97.0 470.6 L97.5 470.0 L97.9 470.8 L98.4 470.8 L98.8 472.0 L99.3 470.6 L99.7 469.9 L100.2 472.7 L100.6 471.1 L101.1 470.6 L101.5 473.9 L102.0 472.7 L102.4 474.6 L102.9 473.5 L103.3 473.1 L103.8 473.7 L104.2 475.4 L104.7 476.4 L105.1 476.4 L105.6 477.8 L106.0 476.9 L106.5 479.7 L106.9 478.0 L107.4 480.8 L107.8 482.7 L108.3 483.9 L108.7 485.5 L109.2 481.7 L109.6 485.3 L110.1 486.4 L110.5 486.7 L111.0 484.7 L111.4 487.0 L111.9 489.4 L112.3 485.6 L112.8 488.7 L113.2 490.1 L113.7 488.3 L114.1 490.5 L114.6 488.2 L115.0 488.3 L115.5 488.1 L115.9 489.2 L116.4 488.6 L116.8 489.7 L117.3 487.0 L117.7 487.9 L118.2 489.1 L118.6 488.4 L119.1 486.4 L119.5 489.4 L120.0 488.4 L120.4 489.9 L120.9 490.3 L121.3 491.9 L121.8 490.9 L122.2 488.8 L122.7 489.9 L123.1 493.1 L123.6 492.2 L124.0 494.5 L124.5 493.8 L124.9 493.0 L125.4 495.8 L125.8 493.8 L126.3 492.6 L126.7 498.4 L127.2 493.7 L127.6 497.4 L128.1 498.0 L128.5 497.3 L129.0 495.2 L129.4 498.9 L129.9 496.0 L130.3 496.4 L130.8 498.0 L131.2 499.7 L131.7 499.4 L132.1 500.3 L132.6 498.9 L133.0 499.5 L133.5 498.3 L133.9 499.5 L134.4 500.8 L134.8 499.7 L135.3 500.8 L135.7 499.5 L136.2 499.6 L136.6 500.5 L137.1 500.3 L137.5 501.4 L138.0 500.9 L138.4 503.0 L138.9 500.4 L139.3 500.3 L139.8 499.1 L140.2 500.4 L140.7 501.1 L141.1 499.1 L141.6 499.9 L142.0 500.8 L142.5 499.6 L142.9 499.2 L143.4 501.8 L143.8 501.4 L144.3 502.4 L144.7 504.1 L145.2 504.8 L145.6 503.5 L146.1 503.9 L146.5 505.7 L147.0 505.8 L147.4 503.6 L147.9 507.3 L148.3 505.2 L148.8 505.7 L149.2 502.7 L149.7 505.5 L150.1 502.6 L150.6 502.8 L151.0 500.6 L151.5 501.8 L151.9 501.3 L152.4 501.0 L152.8 501.4 L153.3 500.5 L153.7 501.3 L154.2 499.1 L154.6 498.0 L155.1 498.9 L155.5 499.4 L156.0 499.8 L156.4 499.7 L156.9 496.8 L157.3 500.1 L157.8 502.0 L158.2 500.7 L158.7 500.4 L159.1 502.0 L159.6 501.4 L160.0 503.4 L160.5 503.0 L160.9 505.1 L161.4 504.1 L161.8 502.8 L162.3 504.7 L162.7 505.4 L163.2 503.6 L163.6 504.1 L164.1 502.0 L164.5 506.2 L165.0 504.3 L165.4 502.1 L165.9 502.3 L166.3 504.1 L166.8 505.2 L167.2 503.9 L167.7 504.4 L168.1 502.1 L168.6 501.6 L169.0 504.2 L169.5 503.7 L169.9 503.1 L170.4 505.0 L170.8 502.2 L171.3 503.0 L171.7 505.0 L172.2 506.1 L172.6 503.9 L173.1 506.1 L173.5 503.3 L174.0 504.6 L174.4 504.1 L174.9 502.4 L175.3 504.9 L175.8 505.9 L176.2 504.6 L176.7 504.8 L177.1 506.8 L177.6 503.5 L178.0 503.2 L178.5 503.5 L178.9 502.1 L179.4 504.7 L179.8 502.6 L180.3 500.7 L180.7 500.9 L181.2 504.4 L181.6 500.6 L182.1 500.2 L182.5 501.5 L183.0 501.7 L183.4 500.5 L183.9 496.5 L184.3 493.7 L184.8 493.5 L185.2 490.2 L185.7 486.7 L186.1 490.8 L186.6 490.8 L187.0 489.9 L187.5 490.3 L187.9 491.4 L188.4 490.7 L188.8 490.3 L189.3 492.9 L189.7 491.0 L190.2 493.6 L190.6 491.2 L191.1 493.0 L191.5 492.9 L192.0 495.4 L192.4 491.7 L192.9 491.3 L193.3 492.3 L193.8 491.6 L194.2 492.3 L194.7 494.2 L195.1 495.3 L195.6 497.1 L196.0 494.7 L196.5 499.2 L196.9 499.6 L197.4 497.4 L197.8 495.5 L198.3 498.9 L198.7 499.8 L199.2 496.5 L199.6 499.2 L200.1 498.5 L200.5 497.5 L201.0 499.0 L201.4 499.2 L201.9 497.0 L202.3 497.6 L202.8 496.1 L203.2 495.6 L203.7 496.3 L204.1 496.6 L204.6 494.8 L205.0 492.4 L205.5 495.7 L205.9 492.5 L206.4 494.4 L206.8 496.3 L207.3 493.7 L207.7 492.0 L208.2 491.4 L208.6 494.6 L209.1 492.8 L209.5 493.3 L210.0 493.6 L210.4 492.1 L210.9 491.6 L211.3 491.0 L211.8 489.6 L212.2 490.7 L212.7 492.8 L213.1 492.9 L213.6 493.9 L214.0 493.4 L214.5 494.0 L214.9 495.1 L215.4 492.9 L215.8 493.1 L216.3 490.9 L216.7 493.7 L217.2 492.0 L217.6 492.1 L218.1 492.9 L218.5 491.8 L219.0 489.8 L219.4 490.4 L219.9 487.0 L220.3 489.5 L220.8 489.5 L221.2 487.6 L221.7 491.8 L222.1 489.5 L222.6 491.7 L223.0 490.6 L223.5 492.8 L223.9 493.6 L224.4 491.2 L224.8 490.6 L225.3 492.7 L225.7 494.2 L226.2 493.0 L226.6 492.9 L227.1 494.7 L227.5 491.2 L228.0 492.8 L228.4 491.5 L228.9 493.4 L229.3 491.7 L229.8 490.9 L230.2 491.5 L230.7 489.7 L231.1 491.4 L231.6 491.3 L232.0 492.4 L232.5 492.6 L232.9 495.4 L233.4 494.8 L233.8 496.3 L234.3 497.0 L234.7 496.0 L235.2 498.4 L235.6 498.6 L236.1 499.0 L236.5 498.5 L237.0 498.9 L237.4 500.9 L237.9 503.2 L238.3 499.7 L238.8 501.1 L239.2 499.6 L239.7 500.8 L240.1 500.0 L240.6 500.5 L241.0 495.9 L241.5 497.6 L241.9 496.8 L242.4 497.6 L242.8 496.6 L243.3 496.7 L243.7 498.4 L244.2 500.0 L244.6 494.6 L245.1 497.1 L245.5 497.9 L246.0 497.5 L246.4 496.2 L246.9 494.0 L247.3 493.7 L247.8 495.0 L248.2 494.6 L248.7 492.4 L249.1 490.3 L249.6 490.7 L250.0 489.6 L250.5 491.1 L250.9 491.1 L251.4 490.7 L251.8 492.2 L252.3 491.0 L252.7 494.1 L253.2 495.1 L253.6 492.6 L254.1 494.7 L254.5 492.8 L255.0 495.5 L255.4 495.2 L255.9 493.7 L256.3 495.2 L256.8 493.3 L257.2 493.0 L257.7 493.1 L258.1 493.6 L258.6 494.6 L259.0 496.4 L259.5 496.5 L259.9 499.5 L260.4 501.0 L260.8 500.2 L261.3 500.2 L261.7 504.1 L262.2 505.8 L262.6 504.9 L263.1 503.3 L263.5 505.2 L264.0 506.7 L264.4 502.1 L264.9 505.0 L265.3 503.8 L265.8 503.0 L266.2 505.1 L266.7 503.2 L267.1 505.6 L267.6 507.3 L268.0 506.3 L268.5 505.3 L268.9 504.5 L269.4 505.0 L269.8 503.9 L270.3 508.0 L270.7 505.2 L271.2 503.8 L271.6 503.1 L272.1 503.0 L272.5 503.5 L273.0 501.8 L273.4 505.1 L273.9 501.5 L274.3 500.9 L274.8 501.8 L275.2 502.8 L275.7 502.2 L276.1 499.3 L276.6 500.3 L277.0 500.8 L277.5 501.9 L277.9 502.2 L278.4 501.2 L278.8 501.4 L279.3 503.9 L279.7 502.8 L280.2 506.7 L280.6 505.6 L281.1 504.8 L281.5 505.4 L282.0 504.6 L282.4 504.5 L282.9 505.3 L283.3 501.6 L283.8 500.4 L284.2 502.7 L284.7 501.4 L285.1 501.1 L285.6 500.7 L286.0 499.2 L286.5 499.8 L286.9 496.9 L287.4 497.4 L287.8 495.5 L288.3 494.5 L288.7 496.9 L289.2 497.1 L289.6 494.0 L290.1 495.2 L290.5 497.2 L291.0 498.4 L291.4 496.3 L291.9 497.1 L292.3 495.8 L292.8 501.0 L293.2 499.3 L293.7 500.4 L294.1 500.6 L294.6 501.5 L295.0 501.5 L295.5 500.8 L295.9 502.8 L296.4 502.4 L296.8 504.2 L297.3 501.5 L297.7 501.7 L298.2 503.2 L298.6 503.9 L299.1 502.4 L299.5 501.2 L300.0 501.9 L300.4 501.3 L300.9 504.4 L301.3 502.8 L301.8 502.9 L302.2 501.2 L302.7 499.7 L303.1 501.6 L303.6 501.8 L304.0 500.1 L304.5 498.9 L304.9 499.9 L305.4 497.7 L305.8 499.0 L306.3 497.0 L306.7 496.5 L307.2 498.4 L307.6 498.0 L308.1 499.9 L308.5 496.9 L309.0 497.2 L309.4 495.6 L309.9 494.5 L310.3 494.6 L310.8 497.8 L311.2 496.0 L311.7 499.3 L312.1 500.1 L312.6 498.2 L313.0 501.0 L313.5 499.5 L313.9 501.0 L314.4 499.5 L314.8 501.4 L315.3 499.3 L315.7 501.7 L316.2 500.6 L316.6 501.4 L317.1 502.7 L317.5 502.4 L318.0 502.4 L318.4 503.8 L318.9 503.9 L319.3 500.8 L319.8 503.1 L320.2 503.0 L320.7 501.0 L321.1 502.2 L321.6 499.8 L322.0 503.1 L322.5 500.7 L322.9 500.7 L323.4 503.1 L323.8 502.3 L324.3 504.2 L324.7 502.9 L325.2 504.4 L325.6 502.0 L326.1 502.1 L326.5 502.3" stroke="#ff00ff"/>
<path class="c" d="M39.0 350.5 L39.5 351.6 L40.0 352.8 L40.5 353.9 L41.0 355.0 L41.5 356.2 L42.0 357.3 L42.5 358.4 L43.0 359.5 L43.5 360.7 L44.0 361.8 L44.5 362.9 L45.0 364.1 L45.5 365.2 L46.0 366.3 L46.5 367.5 L47.0 368.6 L47.5 369.7 L48.0 370.9 L48.5 372.1 L49.0 373.4 L49.5 374.7 L50.0 376.0 L50.5 377.3 L51.0 378.6 L51.5 380.0 L52.0 381.3 L52.5 382.6 L53.0 383.9 L53.5 385.2 L54.0 386.5 L54.5 387.8 L55.0 389.1 L55.5 390.5 L56.0 391.8 L56.5 393.1 L57.0 394.4 L57.5 396.1 L58.0 397.9 L58.5 399.6 L59.0 401.4 L59.5 403.1 L60.0 404.9 L60.5 406.6 L61.0 408.4 L61.5 410.1 L62.0 411.9 L62.5 413.6 L63.0 415.4 L63.5 417.1 L64.0 418.8 L64.5 420.5 L65.0 422.1 L65.5 423.8 L66.0 425.5 L66.5 427.1 L67.0 428.8 L67.5 430.5 L68.0 432.1 L68.5 433.8 L69.0 435.5 L69.5 437.1 L70.0 438.8 L70.5 440.5 L71.0 442.1 L71.5 443.8 L72.0 445.5 L72.5 447.1 L73.0 448.8 L73.5 450.5 L74.0 452.1 L74.5 453.8 L75.0 455.5 L75.5 457.1 L76.0 458.8 L76.5 460.5 L77.0 462.1 L77.5 463.5 L78.0 464.9 L78.5 466.4 L79.0 467.8 L79.5 469.3 L80.0 470.7 L80.5 472.5 L81.0 474.3 L81.5 476.1 L82.0 478.0 L82.5 479.6 L83.0 480.9 L83.5 482.2 L84.0 483.4 L84.5 484.7 L85.0 486.0 L85.5 487.3 L86.0 488.7 L86.5 490.2 L87.0 491.7 L87.5 493.2 L88.0 494.7 L88.5 496.2 L89.0 497.7 L89.5 499.2 L90.0 500.7 L90.5 502.2 L91.0 503.7 L91.5 505.2 L92.0 506.7 L92.5 508.1 L93.0 509.5 L93.5 510.8 L94.0 512.1 L94.5 513.5 L95.0 514.8 L95.5 516.1 L96.0 517.5 L96.5 518.8 L97.0 520.1 L97.5 521.5 L98.0 522.8 L98.5 524.1 L99.0 525.3 L99.5 526.1 L100.0 526.9 L100.5 527.8 L101.0 528.6 L101.5 529.4 L102.0 530.3 L102.5 531.1 L103.0 531.9 L103.5 532.8 L104.0 533.6 L104.5 534.4 L105.0 535.3 L105.5 536.2 L106.0 537.5 L106.5 538.9 L107.0 540.2 L107.5 541.5 L108.0 542.9 L108.5 544.2 L109.0 545.5 L109.5 546.9 L110.0 548.2 L110.5 549.5 L111.0 550.9 L111.5 552.2 L112.0 553.5 L112.5 554.1 L113.0 554.6 L113.5 555.1 L114.0 555.6 L114.5 556.1 L115.0 556.6 L115.5 557.1 L116.0 557.6 L116.5 558.1 L117.0 558.6 L117.5 559.1 L118.0 559.7 L118.5 560.4 L119.0 561.1 L119.5 561.8 L120.0 562.5 L120.5 563.2 L121.0 563.9 L121.5 564.6 L122.0 565.3" stroke="#ff0000" stroke-dasharray="6.5 6.2"/>
<path class="c" d="M122.0 565.4 L122.7 566.5 L123.4 566.7 L124.1 566.9 L124.8 566.9 L125.5 568.6 L126.2 568.8 L126.9 569.4 L127.6 569.0 L128.3 569.0 L129.0 567.6 L129.7 569.4 L130.4 567.5 L131.1 567.7 L131.8 567.8 L132.5 567.4 L133.2 568.2 L133.9 567.1 L134.6 566.7 L135.3 566.1 L136.0 566.6 L136.7 566.1 L137.4 567.4 L138.1 568.8 L138.8 568.6 L139.5 570.4 L140.2 572.0 L140.9 572.6 L141.6 571.3 L142.3 570.1 L143.0 570.7 L143.7 569.0 L144.4 569.3 L145.1 569.7 L145.8 569.9 L146.5 570.0 L147.2 570.9 L147.9 570.3 L148.6 570.9 L149.3 571.0 L150.0 570.8 L150.7 571.5 L151.4 571.6 L152.1 571.6 L152.8 571.6 L153.5 572.3 L154.2 573.2 L154.9 573.1 L155.6 571.5 L156.3 573.7 L157.0 572.2 L157.7 572.5 L158.4 573.8 L159.1 573.1 L159.8 575.0 L160.5 574.6 L161.2 573.9 L161.9 573.1 L162.6 573.5 L163.3 573.4 L164.0 572.0 L164.7 572.4 L165.4 570.9 L166.1 570.6 L166.8 570.1 L167.5 570.7 L168.2 570.5 L168.9 569.7 L169.6 572.3 L170.3 571.1 L171.0 571.6 L171.7 572.7 L172.4 572.3 L173.1 572.7 L173.8 573.2 L174.5 572.6 L175.2 574.5 L175.9 574.0 L176.6 573.7 L177.3 574.8 L178.0 574.7 L178.7 574.3 L179.4 575.3 L180.1 575.5 L180.8 575.2 L181.5 574.7 L182.2 574.4 L182.9 572.7 L183.6 572.9 L184.3 571.8 L185.0 572.2 L185.7 570.7 L186.4 569.8 L187.1 570.4 L187.8 571.6 L188.5 570.5 L189.2 569.4 L189.9 570.3 L190.6 568.0 L191.3 567.1 L192.0 566.9 L192.7 565.7 L193.4 564.6 L194.1 563.4 L194.8 563.5 L195.5 564.3 L196.2 563.0 L196.9 563.5 L197.6 564.8 L198.3 565.4 L199.0 563.2 L199.7 564.8 L200.4 565.9 L201.1 565.1 L201.8 565.2 L202.5 567.2 L203.2 567.2 L203.9 568.1 L204.6 569.2 L205.3 569.8 L206.0 570.4 L206.7 573.0 L207.4 573.5 L208.1 572.8 L208.8 572.8 L209.5 573.3 L210.2 573.1 L210.9 572.3 L211.6 572.3 L212.3 573.0 L213.0 572.3 L213.7 571.3 L214.4 571.1 L215.1 572.2 L215.8 570.8 L216.5 572.5 L217.2 572.1 L217.9 571.3 L218.6 571.8 L219.3 572.2 L220.0 572.4 L220.7 572.4 L221.4 572.4 L222.1 571.4 L222.8 569.9 L223.5 569.4 L224.2 568.4 L224.9 568.6 L225.6 568.9 L226.3 567.5 L227.0 568.9 L227.7 568.7 L228.4 568.6 L229.1 567.9 L229.8 568.3 L230.5 568.1 L231.2 568.5 L231.9 567.4 L232.6 569.1 L233.3 570.2 L234.0 570.0 L234.7 570.5 L235.4 572.1 L236.1 573.6 L236.8 571.7 L237.5 570.8 L238.2 569.5 L238.9 569.0 L239.6 568.0 L240.3 566.1 L241.0 566.0 L241.7 565.5 L242.4 564.3 L243.1 564.7 L243.8 565.0 L244.5 564.6 L245.2 563.7 L245.9 564.7 L246.6 564.1 L247.3 563.3 L248.0 562.3 L248.7 563.3 L249.4 563.6 L250.1 563.2 L250.8 564.1 L251.5 566.2 L252.2 566.8 L252.9 568.1 L253.6 567.6 L254.3 568.7 L255.0 569.7 L255.7 568.6 L256.4 570.5 L257.1 568.7 L257.8 569.3 L258.5 570.8 L259.2 568.8 L259.9 571.0 L260.6 570.2 L261.3 570.7 L262.0 571.9 L262.7 572.3 L263.4 573.1 L264.1 573.0 L264.8 573.0 L265.5 572.7 L266.2 573.7 L266.9 572.4 L267.6 574.2 L268.3 574.1 L269.0 575.0 L269.7 575.2 L270.4 573.5 L271.1 574.4 L271.8 573.3 L272.5 573.2 L273.2 573.7 L273.9 573.2 L274.6 573.0 L275.3 572.4 L276.0 572.2 L276.7 571.1 L277.4 571.0 L278.1 571.4 L278.8 569.9 L279.5 569.9 L280.2 570.4 L280.9 569.5 L281.6 568.9 L282.3 569.5 L283.0 570.1 L283.7 568.6 L284.4 568.3 L285.1 569.2 L285.8 568.6 L286.5 568.8 L287.2 568.7 L287.9 568.4 L288.6 568.8 L289.3 568.8 L290.0 567.9 L290.7 569.1 L291.4 569.1 L292.1 568.1 L292.8 568.2 L293.5 568.9 L294.2 567.1 L294.9 567.5 L295.6 568.4 L296.3 569.1 L297.0 570.0 L297.7 570.2 L298.4 568.6 L299.1 570.1 L299.8 569.9 L300.5 568.3 L301.2 568.9 L301.9 567.9 L302.6 567.8 L303.3 567.3 L304.0 567.9 L304.7 565.8 L305.4 565.6 L306.1 565.2 L306.8 563.7 L307.5 563.3 L308.2 563.5 L308.9 564.7 L309.6 563.1 L310.3 564.0 L311.0 564.2 L311.7 564.1 L312.4 565.2 L313.1 564.5 L313.8 564.1 L314.5 564.7 L315.2 564.9 L315.9 563.5 L316.6 564.4 L317.3 564.1 L318.0 563.5 L318.7 563.0 L319.4 563.9 L320.1 563.6 L320.8 562.6 L321.5 562.7 L322.2 564.0 L322.9 562.4 L323.6 561.9 L324.3 563.2 L325.0 563.8 L325.7 564.5 L326.4 564.1" stroke="#ff0000" stroke-dasharray="3.2 1.7" style="stroke-width:2.20"/>
</g>
<rect x="38.7" y="350.2" width="287.9" height="255.5" fill="none" stroke="#606060" stroke-width="1"/>
<line x1="38.7" y1="605.7" x2="38.7" y2="602.7" stroke="#606060" stroke-width="1"/>
<line x1="38.7" y1="350.2" x2="38.7" y2="353.2" stroke="#606060" stroke-width="1"/>
<text class="tk" x="38.9" y="625.3" text-anchor="middle" textLength="6.9" lengthAdjust="spacingAndGlyphs">0</text>
<line x1="86.7" y1="605.7" x2="86.7" y2="602.7" stroke="#606060" stroke-width="1"/>
<line x1="86.7" y1="350.2" x2="86.7" y2="353.2" stroke="#606060" stroke-width="1"/>
<text class="tk" x="86.9" y="625.3" text-anchor="middle" textLength="27.6" lengthAdjust="spacingAndGlyphs">1000</text>
<line x1="134.7" y1="605.7" x2="134.7" y2="602.7" stroke="#606060" stroke-width="1"/>
<line x1="134.7" y1="350.2" x2="134.7" y2="353.2" stroke="#606060" stroke-width="1"/>
<text class="tk" x="134.9" y="625.3" text-anchor="middle" textLength="27.6" lengthAdjust="spacingAndGlyphs">2000</text>
<line x1="182.7" y1="605.7" x2="182.7" y2="602.7" stroke="#606060" stroke-width="1"/>
<line x1="182.7" y1="350.2" x2="182.7" y2="353.2" stroke="#606060" stroke-width="1"/>
<text class="tk" x="182.9" y="625.3" text-anchor="middle" textLength="27.6" lengthAdjust="spacingAndGlyphs">3000</text>
<line x1="230.6" y1="605.7" x2="230.6" y2="602.7" stroke="#606060" stroke-width="1"/>
<line x1="230.6" y1="350.2" x2="230.6" y2="353.2" stroke="#606060" stroke-width="1"/>
<text class="tk" x="230.8" y="625.3" text-anchor="middle" textLength="27.6" lengthAdjust="spacingAndGlyphs">4000</text>
<line x1="278.6" y1="605.7" x2="278.6" y2="602.7" stroke="#606060" stroke-width="1"/>
<line x1="278.6" y1="350.2" x2="278.6" y2="353.2" stroke="#606060" stroke-width="1"/>
<text class="tk" x="278.8" y="625.3" text-anchor="middle" textLength="27.6" lengthAdjust="spacingAndGlyphs">5000</text>
<line x1="326.6" y1="605.7" x2="326.6" y2="602.7" stroke="#606060" stroke-width="1"/>
<line x1="326.6" y1="350.2" x2="326.6" y2="353.2" stroke="#606060" stroke-width="1"/>
<text class="tk" x="326.8" y="625.3" text-anchor="middle" textLength="27.6" lengthAdjust="spacingAndGlyphs">6000</text>
<line x1="38.7" y1="350.2" x2="41.7" y2="350.2" stroke="#606060" stroke-width="1"/>
<line x1="326.6" y1="350.2" x2="323.6" y2="350.2" stroke="#606060" stroke-width="1"/>
<text class="tk" x="33.7" y="355.7" text-anchor="end" textLength="6.9" lengthAdjust="spacingAndGlyphs">0</text>
<line x1="38.7" y1="414.1" x2="41.7" y2="414.1" stroke="#606060" stroke-width="1"/>
<line x1="326.6" y1="414.1" x2="323.6" y2="414.1" stroke="#606060" stroke-width="1"/>
<text class="tk" x="33.7" y="419.6" text-anchor="end" textLength="10.8" lengthAdjust="spacingAndGlyphs">-5</text>
<line x1="38.7" y1="477.9" x2="41.7" y2="477.9" stroke="#606060" stroke-width="1"/>
<line x1="326.6" y1="477.9" x2="323.6" y2="477.9" stroke="#606060" stroke-width="1"/>
<text class="tk" x="33.7" y="483.4" text-anchor="end" textLength="17.7" lengthAdjust="spacingAndGlyphs">-10</text>
<line x1="38.7" y1="541.8" x2="41.7" y2="541.8" stroke="#606060" stroke-width="1"/>
<line x1="326.6" y1="541.8" x2="323.6" y2="541.8" stroke="#606060" stroke-width="1"/>
<text class="tk" x="33.7" y="547.3" text-anchor="end" textLength="17.7" lengthAdjust="spacingAndGlyphs">-15</text>
<line x1="38.7" y1="605.7" x2="41.7" y2="605.7" stroke="#606060" stroke-width="1"/>
<line x1="326.6" y1="605.7" x2="323.6" y2="605.7" stroke="#606060" stroke-width="1"/>
<text class="tk" x="33.7" y="611.2" text-anchor="end" textLength="17.7" lengthAdjust="spacingAndGlyphs">-20</text>
<text class="lb" transform="translate(9.7 477.8) rotate(-90)" text-anchor="middle" textLength="67.0" lengthAdjust="spacingAndGlyphs">MSD(dB)</text>
<text class="lb" x="182.5" y="645.0" text-anchor="middle" textLength="56.0" lengthAdjust="spacingAndGlyphs" style="font-size:15.2px">Iterations</text>
<text class="cap" x="182.8" y="676.6" text-anchor="middle">(b)</text>
<rect x="123.5" y="365.6" width="158.1" height="70.6" fill="#ffffff" stroke="#adadad" stroke-width="1.2"/>
<line x1="126.1" y1="375.6" x2="152.6" y2="375.6" stroke="#000000" stroke-width="2.40"/>
<text class="lg" x="155.0" y="380.2" textLength="103.7" lengthAdjust="spacingAndGlyphs">MVC(<tspan class="g">μ</tspan>=0.005,<tspan class="g">τ</tspan>=0.1)</text>
<line x1="126.1" y1="393.1" x2="152.6" y2="393.1" stroke="#0000ff" stroke-width="2.40"/>
<text class="lg" x="155.0" y="397.7" textLength="119.6" lengthAdjust="spacingAndGlyphs">CR-MCC(<tspan class="g">μ</tspan>=0.003,<tspan class="g">σ</tspan> =5)</text>
<line x1="126.1" y1="409.9" x2="152.6" y2="409.9" stroke="#ff00ff" stroke-width="2.40"/>
<text class="lg" x="155.0" y="414.5" textLength="87.0" lengthAdjust="spacingAndGlyphs">CR-LMM(<tspan class="g">μ</tspan>=0.01)</text>
<line x1="126.1" y1="426.9" x2="152.6" y2="426.9" stroke="#ff0000" stroke-width="2.40" stroke-dasharray="6.5 6.2"/>
<text class="lg" x="155.0" y="431.5" textLength="124.0" lengthAdjust="spacingAndGlyphs">CR-MVC(<tspan class="g">μ</tspan>=0.005,<tspan class="g">τ</tspan>=0.1)</text>
</g>
<g id="chart-c">
<clipPath id="clip-c"><rect x="382.4" y="350.8" width="289.8" height="255.4"/></clipPath>
<line x1="430.6" y1="352.0" x2="430.6" y2="606.2" stroke="#ebebeb" stroke-width="1"/>
<line x1="478.8" y1="352.0" x2="478.8" y2="606.2" stroke="#ebebeb" stroke-width="1"/>
<line x1="527.0" y1="352.0" x2="527.0" y2="606.2" stroke="#ebebeb" stroke-width="1"/>
<line x1="575.2" y1="352.0" x2="575.2" y2="606.2" stroke="#ebebeb" stroke-width="1"/>
<line x1="623.4" y1="352.0" x2="623.4" y2="606.2" stroke="#ebebeb" stroke-width="1"/>
<line x1="382.4" y1="415.6" x2="671.6" y2="415.6" stroke="#ebebeb" stroke-width="1"/>
<line x1="382.4" y1="479.1" x2="671.6" y2="479.1" stroke="#ebebeb" stroke-width="1"/>
<line x1="382.4" y1="542.6" x2="671.6" y2="542.6" stroke="#ebebeb" stroke-width="1"/>
<g clip-path="url(#clip-c)">
<path class="c" d="M382.4 352.0 L382.8 355.1 L383.3 358.2 L383.7 361.4 L384.2 364.5 L384.6 367.6 L385.1 370.7 L385.5 373.8 L386.0 376.9 L386.4 380.0 L386.9 382.6 L387.3 383.5 L387.8 384.4 L388.2 385.3 L388.7 386.2 L389.1 387.1 L389.6 388.0 L390.0 388.9 L390.5 389.8 L390.9 390.7 L391.4 391.4 L391.8 392.0 L392.3 392.5 L392.7 393.1 L393.2 393.6 L393.6 394.1 L394.1 394.7 L394.5 395.2 L395.0 395.8 L395.4 396.3 L395.9 396.8 L396.3 397.4 L396.8 398.0 L397.2 398.9 L397.7 399.8 L398.1 400.7 L398.6 401.6 L399.0 402.5 L399.5 403.4 L399.9 404.3 L400.4 405.2 L400.8 406.1 L401.3 406.4 L401.7 406.3 L402.2 405.9 L402.6 405.5 L403.1 406.2 L403.5 405.3 L404.0 404.9 L404.4 405.3 L404.9 404.0 L405.3 404.2 L405.8 404.0 L406.2 403.2 L406.7 403.1 L407.1 404.5 L407.6 404.1 L408.0 404.2 L408.5 405.1 L408.9 404.1 L409.4 405.8 L409.8 403.6 L410.3 403.3 L410.7 404.7 L411.2 405.0 L411.6 405.6 L412.1 404.0 L412.5 403.8 L413.0 403.8 L413.4 405.1 L413.9 402.3 L414.3 403.4 L414.8 403.0 L415.2 402.2 L415.7 402.3 L416.1 402.4 L416.6 401.6 L417.0 402.2 L417.5 402.7 L417.9 402.8 L418.4 402.0 L418.8 402.2 L419.3 402.4 L419.7 403.0 L420.2 402.6 L420.6 403.3 L421.1 402.9 L421.5 401.6 L422.0 403.3 L422.4 401.9 L422.9 402.4 L423.3 401.8 L423.8 402.1 L424.2 401.3 L424.7 401.1 L425.1 399.7 L425.6 401.3 L426.0 400.2 L426.5 399.8 L426.9 401.2 L427.4 401.0 L427.8 401.0 L428.3 401.4 L428.7 401.4 L429.2 401.0 L429.6 401.1 L430.1 402.8 L430.5 403.2 L431.0 402.9 L431.4 402.6 L431.9 402.9 L432.3 402.9 L432.8 402.3 L433.2 402.6 L433.7 402.4 L434.1 401.3 L434.6 402.1 L435.0 400.8 L435.5 399.9 L435.9 401.6 L436.4 400.9 L436.8 402.5 L437.3 400.6 L437.7 402.1 L438.2 401.5 L438.6 401.9 L439.1 401.2 L439.5 403.4 L440.0 401.9 L440.4 403.6 L440.9 402.3 L441.3 401.7 L441.8 402.1 L442.2 403.6 L442.7 402.4 L443.1 402.9 L443.6 403.8 L444.0 403.7 L444.5 402.4 L444.9 402.9 L445.4 404.2 L445.8 402.9 L446.3 403.8 L446.7 402.9 L447.2 401.5 L447.6 402.1 L448.1 401.1 L448.5 401.2 L449.0 400.2 L449.4 400.7 L449.9 399.8 L450.3 400.0 L450.8 398.3 L451.2 398.5 L451.7 398.9 L452.1 399.3 L452.6 399.5 L453.0 399.6 L453.5 398.9 L453.9 399.9 L454.4 400.3 L454.8 400.2 L455.3 400.5 L455.7 399.8 L456.2 400.6 L456.6 400.0 L457.1 399.6 L457.5 399.3 L458.0 401.0 L458.4 399.5 L458.9 399.7 L459.3 399.3 L459.8 401.7 L460.2 401.7 L460.7 400.0 L461.1 399.3 L461.6 400.0 L462.0 400.2 L462.5 400.3 L462.9 400.9 L463.4 400.0 L463.8 400.6 L464.3 401.0 L464.7 401.0 L465.2 401.1 L465.6 400.5 L466.1 400.8 L466.5 401.4 L467.0 400.1 L467.4 401.6 L467.9 400.7 L468.3 401.7 L468.8 399.9 L469.2 401.4 L469.7 400.8 L470.1 401.9 L470.6 401.2 L471.0 400.6 L471.5 401.9 L471.9 400.8 L472.4 400.6 L472.8 400.8 L473.3 400.9 L473.7 401.0 L474.2 401.1 L474.6 402.1 L475.1 402.2 L475.5 402.4 L476.0 402.9 L476.4 402.1 L476.9 401.7 L477.3 401.0 L477.8 401.5 L478.2 401.9 L478.7 402.7 L479.1 401.5 L479.6 403.0 L480.0 403.0 L480.5 401.9 L480.9 401.8 L481.4 402.1 L481.8 401.6 L482.3 401.4 L482.7 401.8 L483.2 402.5 L483.6 400.8 L484.1 402.7 L484.5 403.3 L485.0 403.0 L485.4 403.3 L485.9 401.3 L486.3 401.6 L486.8 403.4 L487.2 402.6 L487.7 403.2 L488.1 402.5 L488.6 402.8 L489.0 401.8 L489.5 402.1 L489.9 403.1 L490.4 402.6 L490.8 402.5 L491.3 403.1 L491.7 402.1 L492.2 401.5 L492.6 402.1 L493.1 402.5 L493.5 403.7 L494.0 402.1 L494.4 403.2 L494.9 403.1 L495.3 403.3 L495.8 403.7 L496.2 402.8 L496.7 403.5 L497.1 402.2 L497.6 403.6 L498.0 403.1 L498.5 402.2 L498.9 401.5 L499.4 402.9 L499.8 402.9 L500.3 404.4 L500.7 404.5 L501.2 402.4 L501.6 403.7 L502.1 403.0 L502.5 403.0 L503.0 402.3 L503.4 403.0 L503.9 403.4 L504.3 402.8 L504.8 403.7 L505.2 403.3 L505.7 404.4 L506.1 403.8 L506.6 403.6 L507.0 403.5 L507.5 403.1 L507.9 404.0 L508.4 403.1 L508.8 403.9 L509.3 403.4 L509.7 403.6 L510.2 404.8 L510.6 404.0 L511.1 404.1 L511.5 403.3 L512.0 403.6 L512.4 403.8 L512.9 403.2 L513.3 403.1 L513.8 403.9 L514.2 404.6 L514.7 403.0 L515.1 403.8 L515.6 403.3 L516.0 404.1 L516.5 404.1 L516.9 403.0 L517.4 403.1 L517.8 404.2 L518.3 404.0 L518.7 404.2 L519.2 404.3 L519.6 404.4 L520.1 405.4 L520.5 404.2 L521.0 404.0 L521.4 403.8 L521.9 405.0 L522.3 404.6 L522.8 403.5 L523.2 403.2 L523.7 403.2 L524.1 404.5 L524.6 404.6 L525.0 404.0 L525.5 402.6 L525.9 403.0 L526.4 404.1 L526.8 403.8 L527.3 403.9 L527.7 403.7 L528.2 403.5 L528.6 404.0 L529.1 403.7 L529.5 402.7 L530.0 403.4 L530.4 403.9 L530.9 403.5 L531.3 404.2 L531.8 404.8 L532.2 402.8 L532.7 405.1 L533.1 403.4 L533.6 403.6 L534.0 404.0 L534.5 402.7 L534.9 403.7 L535.4 403.6 L535.8 403.3 L536.3 403.8 L536.7 403.1 L537.2 403.6 L537.6 402.5 L538.1 403.9 L538.5 404.1 L539.0 404.7 L539.4 403.0 L539.9 403.9 L540.3 403.3 L540.8 404.1 L541.2 402.5 L541.7 403.0 L542.1 403.4 L542.6 404.5 L543.0 402.3 L543.5 403.9 L543.9 403.4 L544.4 403.6 L544.8 403.0 L545.3 402.4 L545.7 404.2 L546.2 402.7 L546.6 403.4 L547.1 402.6 L547.5 403.5 L548.0 404.1 L548.4 403.5 L548.9 402.9 L549.3 403.2 L549.8 403.5 L550.2 402.3 L550.7 403.6 L551.1 403.3 L551.6 403.0 L552.0 403.6 L552.5 403.5 L552.9 403.2 L553.4 403.0 L553.8 402.8 L554.3 403.4 L554.7 404.2 L555.2 403.5 L555.6 403.6 L556.1 402.3 L556.5 402.1 L557.0 403.5 L557.4 402.7 L557.9 403.8 L558.3 402.9 L558.8 402.9 L559.2 403.3 L559.7 402.8 L560.1 401.6 L560.6 403.9 L561.0 402.8 L561.5 403.3 L561.9 402.7 L562.4 402.8 L562.8 403.0 L563.3 403.5 L563.7 403.4 L564.2 402.1 L564.6 403.5 L565.1 403.2 L565.5 403.1 L566.0 403.8 L566.4 401.9 L566.9 403.3 L567.3 403.1 L567.8 403.7 L568.2 403.5 L568.7 403.8 L569.1 402.5 L569.6 403.9 L570.0 402.4 L570.5 403.2 L570.9 403.0 L571.4 403.7 L571.8 403.2 L572.3 403.6 L572.7 403.7 L573.2 403.1 L573.6 403.9 L574.1 403.5 L574.5 402.1 L575.0 402.7 L575.4 402.9 L575.9 403.3 L576.3 403.1 L576.8 403.7 L577.2 403.0 L577.7 404.0 L578.1 403.7 L578.6 402.4 L579.0 403.4 L579.5 403.0 L579.9 403.9 L580.4 404.5 L580.8 402.6 L581.3 403.3 L581.7 405.0 L582.2 402.8 L582.6 403.9 L583.1 402.3 L583.5 403.5 L584.0 403.3 L584.4 402.8 L584.9 402.8 L585.3 404.2 L585.8 403.6 L586.2 404.6 L586.7 403.1 L587.1 403.4 L587.6 404.6 L588.0 405.0 L588.5 404.3 L588.9 404.0 L589.4 404.2 L589.8 403.7 L590.3 405.2 L590.7 404.5 L591.2 403.3 L591.6 404.7 L592.1 403.6 L592.5 403.9 L593.0 404.1 L593.4 403.2 L593.9 404.2 L594.3 405.3 L594.8 403.3 L595.2 402.8 L595.7 403.7 L596.1 403.6 L596.6 404.7 L597.0 403.2 L597.5 405.2 L597.9 403.2 L598.4 404.2 L598.8 405.3 L599.3 404.9 L599.7 404.6 L600.2 404.0 L600.6 404.2 L601.1 403.5 L601.5 405.1 L602.0 403.7 L602.4 403.8 L602.9 403.9 L603.3 403.9 L603.8 403.6 L604.2 403.9 L604.7 403.8 L605.1 404.4 L605.6 404.4 L606.0 403.9 L606.5 403.8 L606.9 402.5 L607.4 404.0 L607.8 403.5 L608.3 403.3 L608.7 404.6 L609.2 403.5 L609.6 403.9 L610.1 405.0 L610.5 404.5 L611.0 403.9 L611.4 403.7 L611.9 403.9 L612.3 402.5 L612.8 404.4 L613.2 403.9 L613.7 404.9 L614.1 404.5 L614.6 404.4 L615.0 405.5 L615.5 404.4 L615.9 404.4 L616.4 404.4 L616.8 405.6 L617.3 404.5 L617.7 402.8 L618.2 404.3 L618.6 404.3 L619.1 404.8 L619.5 404.4 L620.0 403.9 L620.4 403.7 L620.9 404.3 L621.3 404.8 L621.8 405.5 L622.2 405.6 L622.7 404.3 L623.1 404.3 L623.6 404.7 L624.0 403.2 L624.5 405.5 L624.9 404.0 L625.4 404.8 L625.8 403.9 L626.3 404.8 L626.7 404.8 L627.2 403.9 L627.6 404.5 L628.1 403.9 L628.5 404.3 L629.0 403.0 L629.4 403.3 L629.9 403.3 L630.3 402.5 L630.8 401.4 L631.2 402.9 L631.7 402.3 L632.1 402.4 L632.6 401.2 L633.0 402.3 L633.5 402.3 L633.9 402.0 L634.4 402.7 L634.8 400.8 L635.3 401.6 L635.7 401.6 L636.2 401.6 L636.6 402.2 L637.1 402.7 L637.5 403.8 L638.0 403.0 L638.4 403.4 L638.9 402.9 L639.3 404.4 L639.8 402.8 L640.2 402.6 L640.7 403.5 L641.1 404.7 L641.6 403.3 L642.0 403.4 L642.5 404.5 L642.9 402.9 L643.4 403.1 L643.8 402.6 L644.3 402.3 L644.7 403.0 L645.2 402.6 L645.6 403.1 L646.1 404.9 L646.5 403.4 L647.0 403.6 L647.4 404.9 L647.9 404.2 L648.3 405.2 L648.8 404.8 L649.2 404.3 L649.7 405.7 L650.1 404.9 L650.6 404.1 L651.0 403.8 L651.5 406.1 L651.9 404.3 L652.4 405.2 L652.8 405.1 L653.3 405.3 L653.7 405.6 L654.2 403.1 L654.6 404.1 L655.1 404.2 L655.5 405.2 L656.0 403.7 L656.4 403.5 L656.9 404.3 L657.3 403.4 L657.8 404.1 L658.2 404.6 L658.7 404.4 L659.1 402.8 L659.6 402.0 L660.0 403.8 L660.5 403.5 L660.9 404.9 L661.4 402.8 L661.8 404.4 L662.3 403.7 L662.7 404.4 L663.2 405.0 L663.6 404.7 L664.1 404.8 L664.5 405.3 L665.0 405.0 L665.4 405.3 L665.9 406.7 L666.3 404.7 L666.8 407.0 L667.2 408.0 L667.7 407.6 L668.1 408.3 L668.6 409.0 L669.0 409.5 L669.5 408.2 L669.9 409.7 L670.4 410.7 L670.8 408.6 L671.3 409.2" stroke="#000000"/>
<path class="c" d="M382.4 352.0 L382.8 356.7 L383.3 361.3 L383.7 366.0 L384.2 370.6 L384.6 375.2 L385.1 379.9 L385.5 384.5 L386.0 389.1 L386.4 393.8 L386.9 398.4 L387.3 403.1 L387.8 407.7 L388.2 412.0 L388.7 415.4 L389.1 418.8 L389.6 422.2 L390.0 425.6 L390.5 429.0 L390.9 432.5 L391.4 435.9 L391.8 439.3 L392.3 442.7 L392.7 446.1 L393.2 449.5 L393.6 452.9 L394.1 456.4 L394.5 459.5 L395.0 460.6 L395.4 461.6 L395.9 462.7 L396.3 463.6 L396.8 464.8 L397.2 465.5 L397.7 468.1 L398.1 468.2 L398.6 468.5 L399.0 467.1 L399.5 469.9 L399.9 465.6 L400.4 468.6 L400.8 465.8 L401.3 463.7 L401.7 464.7 L402.2 463.3 L402.6 466.2 L403.1 466.7 L403.5 469.7 L404.0 471.4 L404.4 470.0 L404.9 471.3 L405.3 473.2 L405.8 470.1 L406.2 473.1 L406.7 472.5 L407.1 469.4 L407.6 474.9 L408.0 469.6 L408.5 465.2 L408.9 464.1 L409.4 465.9 L409.8 466.4 L410.3 473.1 L410.7 468.4 L411.2 471.8 L411.6 471.7 L412.1 478.2 L412.5 469.8 L413.0 473.0 L413.4 473.5 L413.9 474.6 L414.3 474.8 L414.8 472.2 L415.2 475.9 L415.7 472.8 L416.1 477.7 L416.6 464.3 L417.0 470.1 L417.5 463.3 L417.9 462.9 L418.4 470.8 L418.8 468.8 L419.3 455.7 L419.7 459.8 L420.2 461.5 L420.6 456.0 L421.1 464.2 L421.5 467.0 L422.0 467.8 L422.4 461.9 L422.9 473.5 L423.3 471.3 L423.8 470.6 L424.2 468.7 L424.7 473.8 L425.1 474.8 L425.6 470.4 L426.0 472.6 L426.5 475.0 L426.9 464.8 L427.4 470.6 L427.8 462.9 L428.3 465.1 L428.7 468.6 L429.2 465.5 L429.6 463.6 L430.1 466.2 L430.5 472.5 L431.0 474.5 L431.4 472.1 L431.9 478.2 L432.3 478.2 L432.8 489.5 L433.2 482.3 L433.7 482.7 L434.1 479.3 L434.6 475.7 L435.0 474.4 L435.5 471.5 L435.9 462.0 L436.4 463.3 L436.8 462.0 L437.3 471.7 L437.7 476.0 L438.2 474.5 L438.6 472.3 L439.1 475.7 L439.5 474.1 L440.0 477.5 L440.4 472.4 L440.9 467.6 L441.3 462.9 L441.8 462.8 L442.2 468.0 L442.7 464.9 L443.1 470.1 L443.6 477.3 L444.0 474.9 L444.5 483.4 L444.9 483.6 L445.4 479.8 L445.8 478.3 L446.3 484.6 L446.7 485.1 L447.2 489.9 L447.6 492.6 L448.1 481.5 L448.5 481.8 L449.0 482.0 L449.4 482.5 L449.9 478.3 L450.3 475.9 L450.8 476.8 L451.2 471.8 L451.7 467.4 L452.1 467.7 L452.6 464.6 L453.0 468.1 L453.5 468.9 L453.9 457.9 L454.4 468.6 L454.8 463.8 L455.3 466.6 L455.7 469.0 L456.2 461.4 L456.6 466.5 L457.1 471.1 L457.5 471.4 L458.0 476.8 L458.4 475.0 L458.9 470.5 L459.3 477.6 L459.8 478.6 L460.2 476.2 L460.7 471.4 L461.1 472.3 L461.6 474.3 L462.0 472.9 L462.5 472.7 L462.9 466.8 L463.4 461.5 L463.8 462.4 L464.3 464.8 L464.7 463.9 L465.2 467.2 L465.6 458.7 L466.1 458.4 L466.5 458.5 L467.0 459.2 L467.4 464.7 L467.9 464.7 L468.3 464.4 L468.8 463.0 L469.2 467.7 L469.7 465.2 L470.1 468.8 L470.6 466.0 L471.0 457.7 L471.5 463.1 L471.9 455.6 L472.4 456.1 L472.8 459.5 L473.3 453.0 L473.7 457.8 L474.2 454.5 L474.6 452.7 L475.1 463.3 L475.5 461.0 L476.0 459.0 L476.4 456.9 L476.9 461.3 L477.3 467.5 L477.8 464.8 L478.2 462.7 L478.7 462.2 L479.1 465.2 L479.6 460.7 L480.0 471.3 L480.5 469.5 L480.9 472.8 L481.4 468.0 L481.8 473.7 L482.3 474.2 L482.7 467.9 L483.2 474.4 L483.6 475.7 L484.1 472.5 L484.5 472.8 L485.0 475.1 L485.4 473.2 L485.9 469.7 L486.3 474.6 L486.8 473.1 L487.2 472.8 L487.7 472.0 L488.1 472.8 L488.6 470.1 L489.0 467.8 L489.5 467.9 L489.9 473.6 L490.4 463.0 L490.8 471.1 L491.3 464.2 L491.7 463.3 L492.2 465.0 L492.6 469.0 L493.1 475.0 L493.5 469.6 L494.0 483.5 L494.4 484.5 L494.9 480.3 L495.3 478.8 L495.8 475.8 L496.2 479.9 L496.7 477.3 L497.1 480.9 L497.6 473.0 L498.0 476.2 L498.5 473.4 L498.9 469.8 L499.4 478.0 L499.8 471.7 L500.3 472.0 L500.7 465.5 L501.2 465.7 L501.6 467.6 L502.1 464.6 L502.5 467.7 L503.0 466.4 L503.4 461.6 L503.9 464.0 L504.3 462.6 L504.8 461.3 L505.2 457.2 L505.7 457.9 L506.1 462.2 L506.6 465.6 L507.0 459.9 L507.5 467.9 L507.9 465.2 L508.4 461.2 L508.8 467.3 L509.3 469.9 L509.7 468.7 L510.2 475.6 L510.6 469.6 L511.1 471.9 L511.5 469.3 L512.0 472.8 L512.4 462.6 L512.9 467.3 L513.3 468.9 L513.8 470.6 L514.2 468.3 L514.7 470.0 L515.1 466.4 L515.6 464.6 L516.0 462.2 L516.5 462.0 L516.9 463.0 L517.4 461.5 L517.8 461.7 L518.3 459.4 L518.7 459.2 L519.2 461.3 L519.6 465.4 L520.1 470.9 L520.5 467.7 L521.0 469.8 L521.4 463.2 L521.9 476.4 L522.3 466.0 L522.8 476.1 L523.2 469.7 L523.7 476.8 L524.1 478.4 L524.6 478.0 L525.0 479.4 L525.5 478.9 L525.9 484.0 L526.4 488.9 L526.8 484.4 L527.3 478.2 L527.7 482.8 L528.2 472.9 L528.6 475.5 L529.1 469.8 L529.5 468.0 L530.0 473.3 L530.4 467.4 L530.9 463.2 L531.3 465.7 L531.8 469.2 L532.2 463.5 L532.7 469.2 L533.1 468.9 L533.6 467.2 L534.0 472.2 L534.5 475.8 L534.9 464.5 L535.4 476.2 L535.8 475.7 L536.3 473.5 L536.7 475.9 L537.2 474.1 L537.6 470.0 L538.1 475.9 L538.5 470.5 L539.0 473.1 L539.4 467.4 L539.9 463.8 L540.3 471.3 L540.8 470.9 L541.2 468.7 L541.7 468.5 L542.1 477.3 L542.6 480.6 L543.0 482.5 L543.5 481.3 L543.9 481.2 L544.4 483.5 L544.8 484.6 L545.3 488.8 L545.7 486.2 L546.2 484.1 L546.6 484.1 L547.1 482.0 L547.5 477.1 L548.0 474.5 L548.4 478.3 L548.9 470.5 L549.3 459.5 L549.8 464.7 L550.2 454.0 L550.7 461.9 L551.1 460.1 L551.6 457.2 L552.0 452.6 L552.5 451.2 L552.9 455.7 L553.4 453.3 L553.8 458.9 L554.3 455.0 L554.7 456.8 L555.2 461.4 L555.6 459.7 L556.1 460.3 L556.5 463.4 L557.0 465.4 L557.4 465.5 L557.9 468.2 L558.3 468.7 L558.8 472.1 L559.2 473.4 L559.7 474.8 L560.1 476.4 L560.6 470.9 L561.0 470.4 L561.5 474.6 L561.9 475.5 L562.4 478.2 L562.8 472.0 L563.3 475.0 L563.7 474.2 L564.2 465.7 L564.6 470.8 L565.1 472.4 L565.5 466.5 L566.0 462.0 L566.4 463.5 L566.9 465.6 L567.3 464.6 L567.8 459.5 L568.2 472.1 L568.7 466.1 L569.1 467.5 L569.6 472.3 L570.0 471.2 L570.5 470.1 L570.9 472.6 L571.4 475.8 L571.8 477.1 L572.3 475.8 L572.7 480.7 L573.2 482.6 L573.6 480.4 L574.1 480.6 L574.5 487.0 L575.0 489.8 L575.4 488.3 L575.9 489.3 L576.3 490.2 L576.8 486.7 L577.2 488.4 L577.7 483.4 L578.1 486.7 L578.6 478.9 L579.0 472.0 L579.5 472.7 L579.9 471.6 L580.4 464.8 L580.8 471.1 L581.3 467.6 L581.7 465.8 L582.2 462.6 L582.6 461.0 L583.1 465.4 L583.5 464.8 L584.0 469.2 L584.4 467.7 L584.9 467.5 L585.3 474.0 L585.8 475.1 L586.2 474.9 L586.7 471.9 L587.1 475.2 L587.6 466.9 L588.0 471.3 L588.5 463.0 L588.9 462.7 L589.4 463.9 L589.8 464.9 L590.3 471.2 L590.7 464.5 L591.2 462.9 L591.6 470.0 L592.1 467.9 L592.5 463.4 L593.0 470.3 L593.4 472.8 L593.9 469.1 L594.3 476.1 L594.8 476.6 L595.2 469.8 L595.7 475.8 L596.1 467.3 L596.6 476.2 L597.0 474.5 L597.5 481.5 L597.9 476.8 L598.4 484.4 L598.8 479.7 L599.3 479.2 L599.7 476.2 L600.2 477.5 L600.6 470.3 L601.1 475.0 L601.5 468.7 L602.0 476.2 L602.4 467.7 L602.9 466.6 L603.3 471.3 L603.8 467.6 L604.2 472.9 L604.7 470.0 L605.1 473.7 L605.6 472.4 L606.0 472.8 L606.5 467.6 L606.9 466.5 L607.4 472.2 L607.8 470.8 L608.3 468.1 L608.7 462.0 L609.2 468.4 L609.6 463.6 L610.1 464.6 L610.5 469.0 L611.0 465.6 L611.4 466.3 L611.9 465.8 L612.3 464.0 L612.8 462.4 L613.2 462.1 L613.7 462.3 L614.1 459.3 L614.6 455.0 L615.0 456.9 L615.5 455.2 L615.9 454.7 L616.4 454.5 L616.8 455.4 L617.3 453.6 L617.7 455.6 L618.2 458.6 L618.6 459.7 L619.1 458.9 L619.5 464.5 L620.0 461.8 L620.4 461.3 L620.9 460.4 L621.3 459.9 L621.8 458.6 L622.2 458.3 L622.7 459.4 L623.1 462.1 L623.6 455.4 L624.0 463.8 L624.5 462.5 L624.9 463.0 L625.4 460.9 L625.8 462.8 L626.3 464.5 L626.7 465.1 L627.2 462.4 L627.6 466.6 L628.1 469.0 L628.5 469.1 L629.0 469.1 L629.4 465.7 L629.9 468.6 L630.3 470.0 L630.8 468.9 L631.2 471.7 L631.7 472.2 L632.1 472.0 L632.6 472.3 L633.0 473.3 L633.5 474.1 L633.9 473.4 L634.4 471.9 L634.8 471.1 L635.3 465.5 L635.7 461.1 L636.2 464.5 L636.6 459.3 L637.1 466.6 L637.5 461.5 L638.0 461.2 L638.4 457.5 L638.9 455.5 L639.3 459.8 L639.8 461.6 L640.2 456.9 L640.7 465.7 L641.1 461.8 L641.6 462.6 L642.0 470.2 L642.5 466.9 L642.9 466.7 L643.4 474.8 L643.8 466.1 L644.3 470.4 L644.7 477.7 L645.2 482.5 L645.6 476.9 L646.1 481.2 L646.5 476.4 L647.0 488.1 L647.4 480.8 L647.9 476.9 L648.3 486.1 L648.8 484.2 L649.2 479.1 L649.7 480.4 L650.1 481.8 L650.6 470.9 L651.0 474.9 L651.5 467.9 L651.9 475.1 L652.4 471.8 L652.8 467.9 L653.3 470.2 L653.7 467.7 L654.2 470.8 L654.6 468.3 L655.1 473.0 L655.5 477.8 L656.0 473.4 L656.4 477.0 L656.9 477.1 L657.3 476.0 L657.8 481.1 L658.2 484.5 L658.7 485.5 L659.1 484.5 L659.6 484.9 L660.0 492.8 L660.5 490.9 L660.9 490.3 L661.4 481.4 L661.8 486.2 L662.3 474.6 L662.7 478.9 L663.2 475.3 L663.6 473.6 L664.1 469.5 L664.5 471.7 L665.0 468.2 L665.4 464.8 L665.9 468.7 L666.3 468.5 L666.8 469.7 L667.2 473.1 L667.7 470.6 L668.1 479.1 L668.6 477.0 L669.0 473.1 L669.5 472.6 L669.9 476.4 L670.4 472.1 L670.8 469.6 L671.3 466.8" stroke="#ff00ff"/>
<path class="c" d="M382.4 352.0 L382.8 357.6 L383.3 363.2 L383.7 368.8 L384.2 374.4 L384.6 379.9 L385.1 385.5 L385.5 391.1 L386.0 396.7 L386.4 402.3 L386.9 407.7 L387.3 412.6 L387.8 417.6 L388.2 422.5 L388.7 427.5 L389.1 432.4 L389.6 437.4 L390.0 442.3 L390.5 447.3 L390.9 452.2 L391.4 456.4 L391.8 459.5 L392.3 462.7 L392.7 465.8 L393.2 469.0 L393.6 472.1 L394.1 475.3 L394.5 478.4 L395.0 481.6 L395.4 484.7 L395.9 487.5 L396.3 490.0 L396.8 492.5 L397.2 494.6 L397.7 496.7 L398.1 498.8 L398.6 500.9 L399.0 503.0 L399.5 505.1 L399.9 507.2 L400.4 508.6 L400.8 510.0 L401.3 511.3 L401.7 512.7 L402.2 514.0 L402.6 515.4 L403.1 516.7 L403.5 518.1 L404.0 519.4 L404.4 520.5 L404.9 521.8 L405.3 522.8 L405.8 524.0 L406.2 524.7 L406.7 525.5 L407.1 526.2 L407.6 528.4 L408.0 525.3 L408.5 525.1 L408.9 524.9 L409.4 520.5 L409.8 524.6 L410.3 519.6 L410.7 519.9 L411.2 523.8 L411.6 518.6 L412.1 519.6 L412.5 524.0 L413.0 519.4 L413.4 521.1 L413.9 523.4 L414.3 523.8 L414.8 524.9 L415.2 525.4 L415.7 528.2 L416.1 528.4 L416.6 528.5 L417.0 527.0 L417.5 527.8 L417.9 525.0 L418.4 529.1 L418.8 523.4 L419.3 527.6 L419.7 528.6 L420.2 522.1 L420.6 522.0 L421.1 522.0 L421.5 524.6 L422.0 521.5 L422.4 523.1 L422.9 522.5 L423.3 523.1 L423.8 526.2 L424.2 522.2 L424.7 524.9 L425.1 526.0 L425.6 527.9 L426.0 524.6 L426.5 529.9 L426.9 529.3 L427.4 530.9 L427.8 528.8 L428.3 524.6 L428.7 525.6 L429.2 527.5 L429.6 525.1 L430.1 524.1 L430.5 526.7 L431.0 526.9 L431.4 522.5 L431.9 526.1 L432.3 518.5 L432.8 518.2 L433.2 523.6 L433.7 521.3 L434.1 522.9 L434.6 523.2 L435.0 522.5 L435.5 524.4 L435.9 523.8 L436.4 521.1 L436.8 524.9 L437.3 525.3 L437.7 528.1 L438.2 522.0 L438.6 523.8 L439.1 522.5 L439.5 522.6 L440.0 525.5 L440.4 522.6 L440.9 521.4 L441.3 523.8 L441.8 526.1 L442.2 524.0 L442.7 526.6 L443.1 531.2 L443.6 531.1 L444.0 530.2 L444.5 528.0 L444.9 527.3 L445.4 523.3 L445.8 526.7 L446.3 524.2 L446.7 522.4 L447.2 518.4 L447.6 518.7 L448.1 520.5 L448.5 519.4 L449.0 517.4 L449.4 518.7 L449.9 518.9 L450.3 515.2 L450.8 515.4 L451.2 515.2 L451.7 515.1 L452.1 519.3 L452.6 519.2 L453.0 519.3 L453.5 516.9 L453.9 517.5 L454.4 519.7 L454.8 519.3 L455.3 520.7 L455.7 519.4 L456.2 522.3 L456.6 524.8 L457.1 524.6 L457.5 525.0 L458.0 522.4 L458.4 524.3 L458.9 522.1 L459.3 524.9 L459.8 522.7 L460.2 522.8 L460.7 522.4 L461.1 524.3 L461.6 522.9 L462.0 522.1 L462.5 519.0 L462.9 520.9 L463.4 517.3 L463.8 522.5 L464.3 520.8 L464.7 522.8 L465.2 523.6 L465.6 522.1 L466.1 523.8 L466.5 527.7 L467.0 532.0 L467.4 528.0 L467.9 529.7 L468.3 531.8 L468.8 529.6 L469.2 530.5 L469.7 533.8 L470.1 535.4 L470.6 534.6 L471.0 537.1 L471.5 532.7 L471.9 532.5 L472.4 533.6 L472.8 532.6 L473.3 525.2 L473.7 526.4 L474.2 529.0 L474.6 523.9 L475.1 524.5 L475.5 523.5 L476.0 523.0 L476.4 523.2 L476.9 525.4 L477.3 527.0 L477.8 527.1 L478.2 523.7 L478.7 519.5 L479.1 522.7 L479.6 521.7 L480.0 522.6 L480.5 521.1 L480.9 517.4 L481.4 521.0 L481.8 515.7 L482.3 517.7 L482.7 519.0 L483.2 518.5 L483.6 520.4 L484.1 514.0 L484.5 519.6 L485.0 521.0 L485.4 519.8 L485.9 522.4 L486.3 519.8 L486.8 523.9 L487.2 523.4 L487.7 520.1 L488.1 520.2 L488.6 520.7 L489.0 519.4 L489.5 522.1 L489.9 520.0 L490.4 522.3 L490.8 522.6 L491.3 521.1 L491.7 521.2 L492.2 520.4 L492.6 521.3 L493.1 521.9 L493.5 524.4 L494.0 521.4 L494.4 522.6 L494.9 522.1 L495.3 520.1 L495.8 520.0 L496.2 522.5 L496.7 522.1 L497.1 516.9 L497.6 517.3 L498.0 516.8 L498.5 517.6 L498.9 521.6 L499.4 520.6 L499.8 522.3 L500.3 523.9 L500.7 520.3 L501.2 521.3 L501.6 521.1 L502.1 522.4 L502.5 519.7 L503.0 520.5 L503.4 520.9 L503.9 520.3 L504.3 518.3 L504.8 516.2 L505.2 515.4 L505.7 521.1 L506.1 520.4 L506.6 518.3 L507.0 519.8 L507.5 520.5 L507.9 518.6 L508.4 522.5 L508.8 520.7 L509.3 521.9 L509.7 524.1 L510.2 522.7 L510.6 524.2 L511.1 524.2 L511.5 523.6 L512.0 523.9 L512.4 527.0 L512.9 522.6 L513.3 525.4 L513.8 520.0 L514.2 522.5 L514.7 520.8 L515.1 518.5 L515.6 515.2 L516.0 521.9 L516.5 516.3 L516.9 516.2 L517.4 517.8 L517.8 517.2 L518.3 517.2 L518.7 515.7 L519.2 512.9 L519.6 516.9 L520.1 513.9 L520.5 517.0 L521.0 518.6 L521.4 520.7 L521.9 519.0 L522.3 519.7 L522.8 520.8 L523.2 518.4 L523.7 520.8 L524.1 520.6 L524.6 520.7 L525.0 523.5 L525.5 523.0 L525.9 526.9 L526.4 527.1 L526.8 521.0 L527.3 525.1 L527.7 522.8 L528.2 525.5 L528.6 524.5 L529.1 525.6 L529.5 524.1 L530.0 524.7 L530.4 522.4 L530.9 518.4 L531.3 519.9 L531.8 520.1 L532.2 520.3 L532.7 518.9 L533.1 523.4 L533.6 519.6 L534.0 522.0 L534.5 519.7 L534.9 524.2 L535.4 519.5 L535.8 523.7 L536.3 520.8 L536.7 524.9 L537.2 527.8 L537.6 522.6 L538.1 524.9 L538.5 528.0 L539.0 528.0 L539.4 526.7 L539.9 532.1 L540.3 530.6 L540.8 533.6 L541.2 532.3 L541.7 530.1 L542.1 532.0 L542.6 536.1 L543.0 530.3 L543.5 530.6 L543.9 531.1 L544.4 530.4 L544.8 528.5 L545.3 522.6 L545.7 527.9 L546.2 522.5 L546.6 523.2 L547.1 523.5 L547.5 523.3 L548.0 522.2 L548.4 523.7 L548.9 527.2 L549.3 522.4 L549.8 520.1 L550.2 524.6 L550.7 523.5 L551.1 523.4 L551.6 524.6 L552.0 519.2 L552.5 520.1 L552.9 520.4 L553.4 521.6 L553.8 521.1 L554.3 517.3 L554.7 516.2 L555.2 518.1 L555.6 515.4 L556.1 520.7 L556.5 518.6 L557.0 519.4 L557.4 519.1 L557.9 524.5 L558.3 522.9 L558.8 522.3 L559.2 525.0 L559.7 524.0 L560.1 525.6 L560.6 527.3 L561.0 524.6 L561.5 526.3 L561.9 526.6 L562.4 528.1 L562.8 526.7 L563.3 524.7 L563.7 522.5 L564.2 523.4 L564.6 520.0 L565.1 522.3 L565.5 520.3 L566.0 520.6 L566.4 518.7 L566.9 518.3 L567.3 518.2 L567.8 522.2 L568.2 519.9 L568.7 520.0 L569.1 517.2 L569.6 520.8 L570.0 517.0 L570.5 524.0 L570.9 521.3 L571.4 522.1 L571.8 519.6 L572.3 520.6 L572.7 523.8 L573.2 522.2 L573.6 523.2 L574.1 524.7 L574.5 523.4 L575.0 518.3 L575.4 519.9 L575.9 519.4 L576.3 519.5 L576.8 516.9 L577.2 516.6 L577.7 518.7 L578.1 518.7 L578.6 520.4 L579.0 518.5 L579.5 521.4 L579.9 514.9 L580.4 515.4 L580.8 518.1 L581.3 516.8 L581.7 515.9 L582.2 519.7 L582.6 520.7 L583.1 521.6 L583.5 518.8 L584.0 520.0 L584.4 520.9 L584.9 521.0 L585.3 523.3 L585.8 521.0 L586.2 523.4 L586.7 519.3 L587.1 525.7 L587.6 528.1 L588.0 525.8 L588.5 528.6 L588.9 524.2 L589.4 527.6 L589.8 526.0 L590.3 529.7 L590.7 529.5 L591.2 525.3 L591.6 525.7 L592.1 525.6 L592.5 530.3 L593.0 525.4 L593.4 525.2 L593.9 525.3 L594.3 524.8 L594.8 523.5 L595.2 521.1 L595.7 522.0 L596.1 526.0 L596.6 523.1 L597.0 521.5 L597.5 519.3 L597.9 521.4 L598.4 520.9 L598.8 519.0 L599.3 521.4 L599.7 517.9 L600.2 518.1 L600.6 519.5 L601.1 517.8 L601.5 520.4 L602.0 518.7 L602.4 519.2 L602.9 521.8 L603.3 522.2 L603.8 525.0 L604.2 524.4 L604.7 524.0 L605.1 525.3 L605.6 525.9 L606.0 522.9 L606.5 525.0 L606.9 525.0 L607.4 528.2 L607.8 524.9 L608.3 527.1 L608.7 521.9 L609.2 523.4 L609.6 524.8 L610.1 521.6 L610.5 523.5 L611.0 516.7 L611.4 520.3 L611.9 520.3 L612.3 519.4 L612.8 516.5 L613.2 520.3 L613.7 514.6 L614.1 520.3 L614.6 519.4 L615.0 521.3 L615.5 519.5 L615.9 518.5 L616.4 520.2 L616.8 520.9 L617.3 523.6 L617.7 522.3 L618.2 523.9 L618.6 524.2 L619.1 526.3 L619.5 520.0 L620.0 523.2 L620.4 525.5 L620.9 525.8 L621.3 523.6 L621.8 524.4 L622.2 524.8 L622.7 525.3 L623.1 523.9 L623.6 523.8 L624.0 522.9 L624.5 524.3 L624.9 527.6 L625.4 523.2 L625.8 526.8 L626.3 528.7 L626.7 524.8 L627.2 527.8 L627.6 522.6 L628.1 525.3 L628.5 521.3 L629.0 518.4 L629.4 520.6 L629.9 523.1 L630.3 518.3 L630.8 520.2 L631.2 517.3 L631.7 517.4 L632.1 519.8 L632.6 518.5 L633.0 519.8 L633.5 521.0 L633.9 516.3 L634.4 517.1 L634.8 518.4 L635.3 522.3 L635.7 517.4 L636.2 517.0 L636.6 518.7 L637.1 521.7 L637.5 516.5 L638.0 516.9 L638.4 517.5 L638.9 518.6 L639.3 521.0 L639.8 514.4 L640.2 513.4 L640.7 516.6 L641.1 517.1 L641.6 511.6 L642.0 514.5 L642.5 517.2 L642.9 514.4 L643.4 517.4 L643.8 517.9 L644.3 519.8 L644.7 520.5 L645.2 521.2 L645.6 524.1 L646.1 521.7 L646.5 523.5 L647.0 525.7 L647.4 522.8 L647.9 523.4 L648.3 523.0 L648.8 522.9 L649.2 528.9 L649.7 525.7 L650.1 527.7 L650.6 524.9 L651.0 523.0 L651.5 521.6 L651.9 522.0 L652.4 520.7 L652.8 521.8 L653.3 517.8 L653.7 519.1 L654.2 520.4 L654.6 520.2 L655.1 521.4 L655.5 524.1 L656.0 525.3 L656.4 525.3 L656.9 526.7 L657.3 526.1 L657.8 527.6 L658.2 525.7 L658.7 522.4 L659.1 524.1 L659.6 525.3 L660.0 524.1 L660.5 521.2 L660.9 523.1 L661.4 521.8 L661.8 520.6 L662.3 521.3 L662.7 516.6 L663.2 517.7 L663.6 517.3 L664.1 520.9 L664.5 522.4 L665.0 522.4 L665.4 524.0 L665.9 522.3 L666.3 525.0 L666.8 521.3 L667.2 527.4 L667.7 525.2 L668.1 519.9 L668.6 518.2 L669.0 524.7 L669.5 520.4 L669.9 522.8 L670.4 519.3 L670.8 521.9 L671.3 520.5" stroke="#0000ff"/>
<path class="c" d="M382.4 352.0 L382.9 357.4 L383.4 362.8 L383.9 368.1 L384.4 373.5 L384.9 378.8 L385.4 384.2 L385.9 389.6 L386.4 394.9 L386.9 400.3 L387.4 405.6 L387.9 411.0 L388.4 415.0 L388.9 419.0 L389.4 423.0 L389.9 427.0 L390.4 431.0 L390.9 435.0 L391.4 439.0 L391.9 443.0 L392.4 447.0 L392.9 451.0 L393.4 455.0 L393.9 458.2 L394.4 461.5 L394.9 464.7 L395.4 468.0 L395.9 471.2 L396.4 474.5 L396.9 477.7 L397.4 481.0 L397.9 484.2 L398.4 487.1 L398.9 490.0 L399.4 492.9 L399.9 495.8 L400.4 498.6 L400.9 501.2 L401.4 503.9 L401.9 506.6 L402.4 509.2 L402.9 511.9 L403.4 514.6 L403.9 517.2 L404.4 519.9 L404.9 522.6 L405.4 525.2 L405.9 527.9 L406.4 530.6 L406.9 532.2 L407.4 533.2 L407.9 534.2 L408.4 535.2 L408.9 536.2 L409.4 537.2 L409.9 538.2 L410.4 539.2 L410.9 540.2 L411.4 541.0 L411.9 541.7 L412.4 542.5 L412.9 543.2 L413.4 544.0 L413.9 544.7" stroke="#ff0000" stroke-dasharray="6.5 6.2"/>
<path class="c" d="M414.0 544.9 L414.7 545.9 L415.4 547.1 L416.1 547.9 L416.8 550.1 L417.5 550.4 L418.2 552.6 L418.9 553.4 L419.6 552.7 L420.3 555.2 L421.0 552.5 L421.7 553.3 L422.4 553.6 L423.1 551.4 L423.8 553.2 L424.5 551.3 L425.2 551.8 L425.9 549.5 L426.6 548.9 L427.3 550.4 L428.0 550.0 L428.7 550.1 L429.4 551.0 L430.1 551.4 L430.8 550.3 L431.5 548.5 L432.2 548.1 L432.9 547.1 L433.6 545.9 L434.3 546.4 L435.0 545.6 L435.7 546.2 L436.4 547.0 L437.1 547.0 L437.8 547.6 L438.5 548.4 L439.2 548.0 L439.9 548.9 L440.6 550.2 L441.3 550.3 L442.0 551.1 L442.7 552.2 L443.4 553.0 L444.1 551.1 L444.8 549.6 L445.5 548.5 L446.2 548.0 L446.9 550.8 L447.6 547.5 L448.3 550.7 L449.0 551.1 L449.7 552.4 L450.4 551.3 L451.1 554.6 L451.8 554.0 L452.5 553.4 L453.2 553.9 L453.9 553.5 L454.6 554.5 L455.3 554.6 L456.0 555.8 L456.7 555.4 L457.4 555.2 L458.1 556.1 L458.8 556.1 L459.5 555.8 L460.2 553.4 L460.9 554.8 L461.6 552.0 L462.3 551.2 L463.0 551.2 L463.7 550.8 L464.4 551.7 L465.1 549.1 L465.8 552.1 L466.5 552.4 L467.2 550.7 L467.9 551.1 L468.6 551.4 L469.3 552.2 L470.0 552.5 L470.7 553.0 L471.4 555.2 L472.1 556.5 L472.8 558.4 L473.5 555.3 L474.2 553.8 L474.9 555.3 L475.6 554.2 L476.3 554.4 L477.0 553.3 L477.7 553.4 L478.4 554.9 L479.1 557.1 L479.8 557.6 L480.5 557.0 L481.2 558.4 L481.9 556.0 L482.6 556.6 L483.3 556.9 L484.0 555.3 L484.7 555.1 L485.4 555.9 L486.1 555.6 L486.8 555.3 L487.5 554.8 L488.2 554.2 L488.9 554.3 L489.6 556.8 L490.3 554.2 L491.0 556.9 L491.7 555.7 L492.4 558.1 L493.1 558.7 L493.8 558.7 L494.5 558.4 L495.2 557.5 L495.9 559.3 L496.6 556.9 L497.3 556.6 L498.0 558.7 L498.7 558.3 L499.4 556.6 L500.1 555.8 L500.8 554.9 L501.5 555.3 L502.2 554.0 L502.9 552.6 L503.6 552.8 L504.3 553.3 L505.0 551.3 L505.7 551.5 L506.4 552.2 L507.1 553.2 L507.8 551.5 L508.5 550.9 L509.2 552.0 L509.9 548.8 L510.6 548.6 L511.3 549.5 L512.0 549.2 L512.7 548.5 L513.4 546.1 L514.1 548.7 L514.8 548.7 L515.5 548.1 L516.2 548.7 L516.9 550.2 L517.6 550.7 L518.3 551.6 L519.0 552.5 L519.7 556.0 L520.4 557.0 L521.1 558.3 L521.8 556.7 L522.5 556.8 L523.2 556.4 L523.9 556.0 L524.6 554.4 L525.3 556.1 L526.0 555.5 L526.7 553.1 L527.4 555.4 L528.1 552.9 L528.8 553.7 L529.5 555.9 L530.2 555.7 L530.9 554.7 L531.6 554.7 L532.3 555.9 L533.0 554.1 L533.7 555.3 L534.4 554.0 L535.1 554.2 L535.8 552.8 L536.5 551.2 L537.2 551.7 L537.9 551.5 L538.6 551.1 L539.3 551.8 L540.0 552.5 L540.7 554.0 L541.4 555.1 L542.1 554.9 L542.8 554.3 L543.5 555.5 L544.2 556.9 L544.9 557.8 L545.6 555.7 L546.3 556.5 L547.0 555.5 L547.7 553.6 L548.4 554.0 L549.1 554.3 L549.8 554.8 L550.5 556.0 L551.2 556.8 L551.9 558.8 L552.6 558.6 L553.3 559.1 L554.0 561.8 L554.7 561.2 L555.4 562.8 L556.1 561.7 L556.8 564.0 L557.5 562.0 L558.2 562.4 L558.9 563.0 L559.6 563.0 L560.3 559.6 L561.0 560.7 L561.7 559.6 L562.4 557.9 L563.1 557.9 L563.8 557.7 L564.5 559.9 L565.2 562.2 L565.9 565.0 L566.6 563.5 L567.3 562.1 L568.0 561.8 L568.7 559.3 L569.4 560.2 L570.1 557.8 L570.8 558.6 L571.5 556.5 L572.2 554.5 L572.9 554.5 L573.6 554.0 L574.3 556.0 L575.0 555.4 L575.7 556.7 L576.4 557.6 L577.1 556.5 L577.8 556.3 L578.5 557.5 L579.2 555.8 L579.9 555.8 L580.6 553.6 L581.3 551.4 L582.0 551.2 L582.7 548.6 L583.4 546.3 L584.1 547.4 L584.8 546.5 L585.5 546.4 L586.2 549.7 L586.9 549.7 L587.6 550.5 L588.3 551.5 L589.0 555.0 L589.7 555.2 L590.4 556.8 L591.1 558.5 L591.8 557.7 L592.5 556.2 L593.2 556.4 L593.9 555.6 L594.6 556.1 L595.3 552.4 L596.0 552.3 L596.7 549.4 L597.4 547.3 L598.1 546.8 L598.8 546.9 L599.5 546.8 L600.2 547.2 L600.9 546.8 L601.6 545.8 L602.3 547.4 L603.0 550.3 L603.7 549.6 L604.4 548.5 L605.1 551.5 L605.8 553.5 L606.5 553.3 L607.2 552.6 L607.9 553.0 L608.6 553.6 L609.3 553.2 L610.0 553.2 L610.7 555.7 L611.4 554.4 L612.1 556.2 L612.8 554.4 L613.5 555.6 L614.2 555.8 L614.9 557.2 L615.6 556.3 L616.3 556.3 L617.0 556.0 L617.7 557.0 L618.4 557.8 L619.1 556.3 L619.8 557.4 L620.5 556.5 L621.2 555.6 L621.9 556.1 L622.6 556.7 L623.3 553.1 L624.0 555.4 L624.7 557.0 L625.4 556.2 L626.1 557.9 L626.8 559.1 L627.5 559.5 L628.2 558.9 L628.9 559.5 L629.6 559.0 L630.3 557.8 L631.0 557.9 L631.7 556.1 L632.4 556.3 L633.1 556.0 L633.8 555.3 L634.5 554.2 L635.2 555.4 L635.9 554.0 L636.6 553.8 L637.3 551.4 L638.0 552.3 L638.7 552.5 L639.4 553.3 L640.1 555.4 L640.8 556.2 L641.5 554.7 L642.2 554.3 L642.9 552.6 L643.6 551.1 L644.3 551.3 L645.0 548.9 L645.7 547.6 L646.4 548.4 L647.1 547.0 L647.8 546.7 L648.5 546.3 L649.2 547.6 L649.9 548.0 L650.6 549.0 L651.3 548.7 L652.0 549.7 L652.7 551.3 L653.4 552.3 L654.1 553.7 L654.8 554.8 L655.5 555.9 L656.2 552.9 L656.9 552.6 L657.6 551.3 L658.3 551.4 L659.0 547.6 L659.7 545.3 L660.4 545.6 L661.1 543.3 L661.8 543.8 L662.5 543.9 L663.2 546.8 L663.9 547.1 L664.6 547.2 L665.3 548.5 L666.0 549.8 L666.7 553.0 L667.4 553.0 L668.1 553.6 L668.8 554.7 L669.5 556.9 L670.2 556.8 L670.9 555.6 L671.6 555.2" stroke="#ff0000" stroke-dasharray="3.2 1.7" style="stroke-width:2.20"/>
</g>
<rect x="382.4" y="352.0" width="289.2" height="254.2" fill="none" stroke="#606060" stroke-width="1"/>
<line x1="382.4" y1="606.2" x2="382.4" y2="603.2" stroke="#606060" stroke-width="1"/>
<line x1="382.4" y1="352.0" x2="382.4" y2="355.0" stroke="#606060" stroke-width="1"/>
<text class="tk" x="382.6" y="625.8" text-anchor="middle" textLength="6.9" lengthAdjust="spacingAndGlyphs">0</text>
<line x1="430.6" y1="606.2" x2="430.6" y2="603.2" stroke="#606060" stroke-width="1"/>
<line x1="430.6" y1="352.0" x2="430.6" y2="355.0" stroke="#606060" stroke-width="1"/>
<text class="tk" x="430.8" y="625.8" text-anchor="middle" textLength="27.6" lengthAdjust="spacingAndGlyphs">1000</text>
<line x1="478.8" y1="606.2" x2="478.8" y2="603.2" stroke="#606060" stroke-width="1"/>
<line x1="478.8" y1="352.0" x2="478.8" y2="355.0" stroke="#606060" stroke-width="1"/>
<text class="tk" x="479.0" y="625.8" text-anchor="middle" textLength="27.6" lengthAdjust="spacingAndGlyphs">2000</text>
<line x1="527.0" y1="606.2" x2="527.0" y2="603.2" stroke="#606060" stroke-width="1"/>
<line x1="527.0" y1="352.0" x2="527.0" y2="355.0" stroke="#606060" stroke-width="1"/>
<text class="tk" x="527.2" y="625.8" text-anchor="middle" textLength="27.6" lengthAdjust="spacingAndGlyphs">3000</text>
<line x1="575.2" y1="606.2" x2="575.2" y2="603.2" stroke="#606060" stroke-width="1"/>
<line x1="575.2" y1="352.0" x2="575.2" y2="355.0" stroke="#606060" stroke-width="1"/>
<text class="tk" x="575.4" y="625.8" text-anchor="middle" textLength="27.6" lengthAdjust="spacingAndGlyphs">4000</text>
<line x1="623.4" y1="606.2" x2="623.4" y2="603.2" stroke="#606060" stroke-width="1"/>
<line x1="623.4" y1="352.0" x2="623.4" y2="355.0" stroke="#606060" stroke-width="1"/>
<text class="tk" x="623.6" y="625.8" text-anchor="middle" textLength="27.6" lengthAdjust="spacingAndGlyphs">5000</text>
<line x1="671.6" y1="606.2" x2="671.6" y2="603.2" stroke="#606060" stroke-width="1"/>
<line x1="671.6" y1="352.0" x2="671.6" y2="355.0" stroke="#606060" stroke-width="1"/>
<text class="tk" x="671.8" y="625.8" text-anchor="middle" textLength="27.6" lengthAdjust="spacingAndGlyphs">6000</text>
<line x1="382.4" y1="352.0" x2="385.4" y2="352.0" stroke="#606060" stroke-width="1"/>
<line x1="671.6" y1="352.0" x2="668.6" y2="352.0" stroke="#606060" stroke-width="1"/>
<text class="tk" x="377.4" y="357.5" text-anchor="end" textLength="6.9" lengthAdjust="spacingAndGlyphs">0</text>
<line x1="382.4" y1="415.6" x2="385.4" y2="415.6" stroke="#606060" stroke-width="1"/>
<line x1="671.6" y1="415.6" x2="668.6" y2="415.6" stroke="#606060" stroke-width="1"/>
<text class="tk" x="377.4" y="421.1" text-anchor="end" textLength="10.8" lengthAdjust="spacingAndGlyphs">-5</text>
<line x1="382.4" y1="479.1" x2="385.4" y2="479.1" stroke="#606060" stroke-width="1"/>
<line x1="671.6" y1="479.1" x2="668.6" y2="479.1" stroke="#606060" stroke-width="1"/>
<text class="tk" x="377.4" y="484.6" text-anchor="end" textLength="17.7" lengthAdjust="spacingAndGlyphs">-10</text>
<line x1="382.4" y1="542.6" x2="385.4" y2="542.6" stroke="#606060" stroke-width="1"/>
<line x1="671.6" y1="542.6" x2="668.6" y2="542.6" stroke="#606060" stroke-width="1"/>
<text class="tk" x="377.4" y="548.1" text-anchor="end" textLength="17.7" lengthAdjust="spacingAndGlyphs">-15</text>
<line x1="382.4" y1="606.2" x2="385.4" y2="606.2" stroke="#606060" stroke-width="1"/>
<line x1="671.6" y1="606.2" x2="668.6" y2="606.2" stroke="#606060" stroke-width="1"/>
<text class="tk" x="377.4" y="611.7" text-anchor="end" textLength="17.7" lengthAdjust="spacingAndGlyphs">-20</text>
<text class="lb" transform="translate(353.8 478.5) rotate(-90)" text-anchor="middle" textLength="67.0" lengthAdjust="spacingAndGlyphs">MSD(dB)</text>
<text class="lb" x="526.7" y="645.0" text-anchor="middle" textLength="56.0" lengthAdjust="spacingAndGlyphs" style="font-size:15.2px">Iterations</text>
<text class="cap" x="520.6" y="676.2" text-anchor="middle">(c)</text>
<rect x="454.5" y="360.6" width="158.7" height="70.6" fill="#ffffff" stroke="#adadad" stroke-width="1.2"/>
<line x1="457.3" y1="370.6" x2="483.8" y2="370.6" stroke="#000000" stroke-width="2.40"/>
<text class="lg" x="486.4" y="375.2" textLength="104.3" lengthAdjust="spacingAndGlyphs">MVC(<tspan class="g">μ</tspan>=0.015,<tspan class="g">τ</tspan>=0.1)</text>
<line x1="457.3" y1="387.8" x2="483.8" y2="387.8" stroke="#ff00ff" stroke-width="2.40"/>
<text class="lg" x="486.4" y="392.4" textLength="87.2" lengthAdjust="spacingAndGlyphs">CR-LMM(<tspan class="g">μ</tspan>=0.06)</text>
<line x1="457.3" y1="404.9" x2="483.8" y2="404.9" stroke="#0000ff" stroke-width="2.40"/>
<text class="lg" x="486.4" y="409.5" textLength="113.6" lengthAdjust="spacingAndGlyphs">CR-MCC(<tspan class="g">μ</tspan>=0.04,<tspan class="g">σ</tspan> =1)</text>
<line x1="457.3" y1="421.6" x2="483.8" y2="421.6" stroke="#ff0000" stroke-width="2.40" stroke-dasharray="6.5 6.2"/>
<text class="lg" x="486.4" y="426.2" textLength="124.1" lengthAdjust="spacingAndGlyphs">CR-MVC(<tspan class="g">μ</tspan>=0.015,<tspan class="g">τ</tspan>=0.1)</text>
</g>
</svg>
</body></html>
